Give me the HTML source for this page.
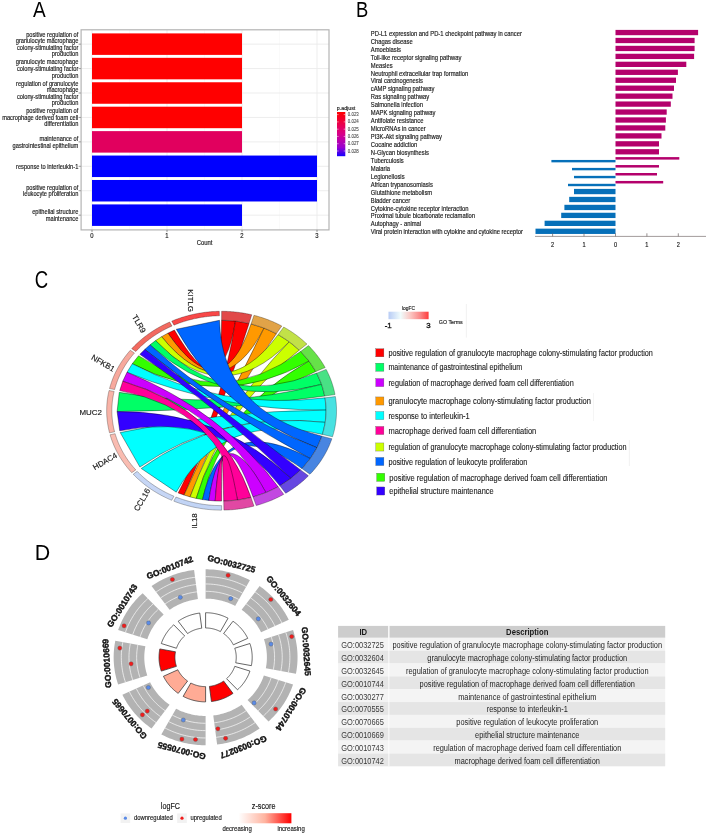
<!DOCTYPE html>
<html><head><meta charset="utf-8"><title>Enrichment figure</title>
<style>
html,body{margin:0;padding:0;background:#fff;}
svg{display:block;}
text{font-family:"Liberation Sans", Arial, sans-serif;}
.sm{fill:#1A1A1A;stroke:#1A1A1A;stroke-width:0.16px;}
.lg{fill:#1E1E1E;stroke:#1E1E1E;stroke-width:0.12px;}
.t2{fill:#222;}
.t3{fill:#333;}
.t4{fill:#444;stroke:#444;stroke-width:0.08px;}
.tb{fill:#1A1A1A;font-weight:bold;}
.tid{fill:#3A3A3A;}
.tds{fill:#1E1E1E;}
.md{fill:#1A1A1A;stroke:#1A1A1A;stroke-width:0.35px;}
</style></head><body>
<svg width="708" height="834" viewBox="0 0 708 834">
<rect width="708" height="834" fill="#fff"/>
<text x="0" y="0" font-size="21.4" fill="#000" transform="translate(33.0 16.9) scale(0.89 1.02)">A</text>
<line x1="129.5" y1="29.8" x2="129.5" y2="229.9" stroke="#F4F4F4" stroke-width="0.5"/>
<line x1="204.5" y1="29.8" x2="204.5" y2="229.9" stroke="#F4F4F4" stroke-width="0.5"/>
<line x1="279.5" y1="29.8" x2="279.5" y2="229.9" stroke="#F4F4F4" stroke-width="0.5"/>
<line x1="92" y1="29.8" x2="92" y2="229.9" stroke="#EBEBEB" stroke-width="0.9"/>
<line x1="167" y1="29.8" x2="167" y2="229.9" stroke="#EBEBEB" stroke-width="0.9"/>
<line x1="242" y1="29.8" x2="242" y2="229.9" stroke="#EBEBEB" stroke-width="0.9"/>
<line x1="317" y1="29.8" x2="317" y2="229.9" stroke="#EBEBEB" stroke-width="0.9"/>
<line x1="81.1" y1="44.15" x2="329.0" y2="44.15" stroke="#EBEBEB" stroke-width="0.9"/>
<line x1="81.1" y1="68.58" x2="329.0" y2="68.58" stroke="#EBEBEB" stroke-width="0.9"/>
<line x1="81.1" y1="93.01" x2="329.0" y2="93.01" stroke="#EBEBEB" stroke-width="0.9"/>
<line x1="81.1" y1="117.44" x2="329.0" y2="117.44" stroke="#EBEBEB" stroke-width="0.9"/>
<line x1="81.1" y1="141.87" x2="329.0" y2="141.87" stroke="#EBEBEB" stroke-width="0.9"/>
<line x1="81.1" y1="166.3" x2="329.0" y2="166.3" stroke="#EBEBEB" stroke-width="0.9"/>
<line x1="81.1" y1="190.73" x2="329.0" y2="190.73" stroke="#EBEBEB" stroke-width="0.9"/>
<line x1="81.1" y1="215.16" x2="329.0" y2="215.16" stroke="#EBEBEB" stroke-width="0.9"/>
<rect x="92" y="33.4" width="150" height="21.5" fill="#FF0000"/>
<rect x="92" y="57.83" width="150" height="21.5" fill="#FF0000"/>
<rect x="92" y="82.26" width="150" height="21.5" fill="#FF0000"/>
<rect x="92" y="106.69" width="150" height="21.5" fill="#FF0000"/>
<rect x="92" y="131.12" width="150" height="21.5" fill="#E1005E"/>
<rect x="92" y="155.55" width="225" height="21.5" fill="#0000FF"/>
<rect x="92" y="179.98" width="225" height="21.5" fill="#0000FF"/>
<rect x="92" y="204.41" width="150" height="21.5" fill="#0000FF"/>
<rect x="81.1" y="29.8" width="247.9" height="200.1" fill="none" stroke="#B4B4B4" stroke-width="1.2"/>
<text transform="translate(78.3 36.65) scale(0.8696 1)" font-size="6.55" text-anchor="end" class="sm">positive regulation of</text>
<text transform="translate(78.3 43.25) scale(0.8696 1)" font-size="6.55" text-anchor="end" class="sm">granulocyte macrophage</text>
<text transform="translate(78.3 49.85) scale(0.8696 1)" font-size="6.55" text-anchor="end" class="sm">colony-stimulating factor</text>
<text transform="translate(78.3 56.45) scale(0.8696 1)" font-size="6.55" text-anchor="end" class="sm">production</text>
<line x1="78.6" y1="44.15" x2="80.8" y2="44.15" stroke="#555" stroke-width="0.6"/>
<text transform="translate(78.3 64.38) scale(0.8696 1)" font-size="6.55" text-anchor="end" class="sm">granulocyte macrophage</text>
<text transform="translate(78.3 70.98) scale(0.8696 1)" font-size="6.55" text-anchor="end" class="sm">colony-stimulating factor</text>
<text transform="translate(78.3 77.58) scale(0.8696 1)" font-size="6.55" text-anchor="end" class="sm">production</text>
<line x1="78.6" y1="68.58" x2="80.8" y2="68.58" stroke="#555" stroke-width="0.6"/>
<text transform="translate(78.3 85.51) scale(0.8696 1)" font-size="6.55" text-anchor="end" class="sm">regulation of granulocyte</text>
<text transform="translate(78.3 92.11) scale(0.8696 1)" font-size="6.55" text-anchor="end" class="sm">macrophage</text>
<text transform="translate(78.3 98.71) scale(0.8696 1)" font-size="6.55" text-anchor="end" class="sm">colony-stimulating factor</text>
<text transform="translate(78.3 105.31) scale(0.8696 1)" font-size="6.55" text-anchor="end" class="sm">production</text>
<line x1="78.6" y1="93.01" x2="80.8" y2="93.01" stroke="#555" stroke-width="0.6"/>
<text transform="translate(78.3 113.24) scale(0.8696 1)" font-size="6.55" text-anchor="end" class="sm">positive regulation of</text>
<text transform="translate(78.3 119.84) scale(0.8696 1)" font-size="6.55" text-anchor="end" class="sm">macrophage derived foam cell</text>
<text transform="translate(78.3 126.44) scale(0.8696 1)" font-size="6.55" text-anchor="end" class="sm">differentiation</text>
<line x1="78.6" y1="117.44" x2="80.8" y2="117.44" stroke="#555" stroke-width="0.6"/>
<text transform="translate(78.3 140.97) scale(0.8696 1)" font-size="6.55" text-anchor="end" class="sm">maintenance of</text>
<text transform="translate(78.3 147.57) scale(0.8696 1)" font-size="6.55" text-anchor="end" class="sm">gastrointestinal epithelium</text>
<line x1="78.6" y1="141.87" x2="80.8" y2="141.87" stroke="#555" stroke-width="0.6"/>
<text transform="translate(78.3 168.7) scale(0.8696 1)" font-size="6.55" text-anchor="end" class="sm">response to interleukin-1</text>
<line x1="78.6" y1="166.3" x2="80.8" y2="166.3" stroke="#555" stroke-width="0.6"/>
<text transform="translate(78.3 189.83) scale(0.8696 1)" font-size="6.55" text-anchor="end" class="sm">positive regulation of</text>
<text transform="translate(78.3 196.43) scale(0.8696 1)" font-size="6.55" text-anchor="end" class="sm">leukocyte proliferation</text>
<line x1="78.6" y1="190.73" x2="80.8" y2="190.73" stroke="#555" stroke-width="0.6"/>
<text transform="translate(78.3 214.26) scale(0.8696 1)" font-size="6.55" text-anchor="end" class="sm">epithelial structure</text>
<text transform="translate(78.3 220.86) scale(0.8696 1)" font-size="6.55" text-anchor="end" class="sm">maintenance</text>
<line x1="78.6" y1="215.16" x2="80.8" y2="215.16" stroke="#555" stroke-width="0.6"/>
<line x1="92" y1="229.9" x2="92" y2="232.1" stroke="#555" stroke-width="0.6"/>
<text transform="translate(92 237.6) scale(0.8696 1)" font-size="6.79" text-anchor="middle" class="sm">0</text>
<line x1="167" y1="229.9" x2="167" y2="232.1" stroke="#555" stroke-width="0.6"/>
<text transform="translate(167 237.6) scale(0.8696 1)" font-size="6.79" text-anchor="middle" class="sm">1</text>
<line x1="242" y1="229.9" x2="242" y2="232.1" stroke="#555" stroke-width="0.6"/>
<text transform="translate(242 237.6) scale(0.8696 1)" font-size="6.79" text-anchor="middle" class="sm">2</text>
<line x1="317" y1="229.9" x2="317" y2="232.1" stroke="#555" stroke-width="0.6"/>
<text transform="translate(317 237.6) scale(0.8696 1)" font-size="6.79" text-anchor="middle" class="sm">3</text>
<text transform="translate(204.6 245.1) scale(0.8696 1)" font-size="6.79" text-anchor="middle" class="sm">Count</text>
<text transform="translate(336.8 109.6) scale(0.8696 1)" font-size="6.09" text-anchor="start" class="sm">p.adjust</text>
<defs><linearGradient id="padj" x1="0" y1="0" x2="0" y2="1"><stop offset="0" stop-color="#FF0000"/><stop offset="0.5" stop-color="#D8008A"/><stop offset="0.8" stop-color="#9A00CF"/><stop offset="1" stop-color="#1400FF"/></linearGradient></defs>
<rect x="337" y="112" width="8.3" height="44.2" fill="url(#padj)"/>
<line x1="337" y1="114.6" x2="338.6" y2="114.6" stroke="#fff" stroke-width="0.5"/>
<line x1="343.7" y1="114.6" x2="345.3" y2="114.6" stroke="#fff" stroke-width="0.5"/>
<text transform="translate(347.8 116.2) scale(0.8696 1)" font-size="5.06" text-anchor="start" class="t4">0.023</text>
<line x1="337" y1="121.88" x2="338.6" y2="121.88" stroke="#fff" stroke-width="0.5"/>
<line x1="343.7" y1="121.88" x2="345.3" y2="121.88" stroke="#fff" stroke-width="0.5"/>
<text transform="translate(347.8 123.48) scale(0.8696 1)" font-size="5.06" text-anchor="start" class="t4">0.024</text>
<line x1="337" y1="129.16" x2="338.6" y2="129.16" stroke="#fff" stroke-width="0.5"/>
<line x1="343.7" y1="129.16" x2="345.3" y2="129.16" stroke="#fff" stroke-width="0.5"/>
<text transform="translate(347.8 130.76) scale(0.8696 1)" font-size="5.06" text-anchor="start" class="t4">0.025</text>
<line x1="337" y1="136.44" x2="338.6" y2="136.44" stroke="#fff" stroke-width="0.5"/>
<line x1="343.7" y1="136.44" x2="345.3" y2="136.44" stroke="#fff" stroke-width="0.5"/>
<text transform="translate(347.8 138.04) scale(0.8696 1)" font-size="5.06" text-anchor="start" class="t4">0.026</text>
<line x1="337" y1="143.72" x2="338.6" y2="143.72" stroke="#fff" stroke-width="0.5"/>
<line x1="343.7" y1="143.72" x2="345.3" y2="143.72" stroke="#fff" stroke-width="0.5"/>
<text transform="translate(347.8 145.32) scale(0.8696 1)" font-size="5.06" text-anchor="start" class="t4">0.027</text>
<line x1="337" y1="151" x2="338.6" y2="151" stroke="#fff" stroke-width="0.5"/>
<line x1="343.7" y1="151" x2="345.3" y2="151" stroke="#fff" stroke-width="0.5"/>
<text transform="translate(347.8 152.6) scale(0.8696 1)" font-size="5.06" text-anchor="start" class="t4">0.028</text>
<text x="0" y="0" font-size="21.4" fill="#000" transform="translate(356.0 16.9) scale(0.86 1.0)">B</text>
<text transform="translate(370.8 35.85) scale(0.8696 1)" font-size="6.73" text-anchor="start" class="sm">PD-L1 expression and PD-1 checkpoint pathway in cancer</text>
<text transform="translate(370.8 43.79) scale(0.8696 1)" font-size="6.73" text-anchor="start" class="sm">Chagas disease</text>
<text transform="translate(370.8 51.73) scale(0.8696 1)" font-size="6.73" text-anchor="start" class="sm">Amoebiasis</text>
<text transform="translate(370.8 59.67) scale(0.8696 1)" font-size="6.73" text-anchor="start" class="sm">Toll-like receptor signaling pathway</text>
<text transform="translate(370.8 67.61) scale(0.8696 1)" font-size="6.73" text-anchor="start" class="sm">Measles</text>
<text transform="translate(370.8 75.55) scale(0.8696 1)" font-size="6.73" text-anchor="start" class="sm">Neutrophil extracellular trap formation</text>
<text transform="translate(370.8 83.49) scale(0.8696 1)" font-size="6.73" text-anchor="start" class="sm">Viral carcinogenesis</text>
<text transform="translate(370.8 91.43) scale(0.8696 1)" font-size="6.73" text-anchor="start" class="sm">cAMP signaling pathway</text>
<text transform="translate(370.8 99.37) scale(0.8696 1)" font-size="6.73" text-anchor="start" class="sm">Ras signaling pathway</text>
<text transform="translate(370.8 107.31) scale(0.8696 1)" font-size="6.73" text-anchor="start" class="sm">Salmonella infection</text>
<text transform="translate(370.8 115.25) scale(0.8696 1)" font-size="6.73" text-anchor="start" class="sm">MAPK signaling pathway</text>
<text transform="translate(370.8 123.19) scale(0.8696 1)" font-size="6.73" text-anchor="start" class="sm">Antifolate resistance</text>
<text transform="translate(370.8 131.13) scale(0.8696 1)" font-size="6.73" text-anchor="start" class="sm">MicroRNAs in cancer</text>
<text transform="translate(370.8 139.07) scale(0.8696 1)" font-size="6.73" text-anchor="start" class="sm">PI3K-Akt signaling pathway</text>
<text transform="translate(370.8 147.01) scale(0.8696 1)" font-size="6.73" text-anchor="start" class="sm">Cocaine addiction</text>
<text transform="translate(370.8 154.95) scale(0.8696 1)" font-size="6.73" text-anchor="start" class="sm">N-Glycan biosynthesis</text>
<text transform="translate(370.8 162.89) scale(0.8696 1)" font-size="6.73" text-anchor="start" class="sm">Tuberculosis</text>
<text transform="translate(370.8 170.83) scale(0.8696 1)" font-size="6.73" text-anchor="start" class="sm">Malaria</text>
<text transform="translate(370.8 178.77) scale(0.8696 1)" font-size="6.73" text-anchor="start" class="sm">Legionellosis</text>
<text transform="translate(370.8 186.71) scale(0.8696 1)" font-size="6.73" text-anchor="start" class="sm">African trypanosomiasis</text>
<text transform="translate(370.8 194.65) scale(0.8696 1)" font-size="6.73" text-anchor="start" class="sm">Glutathione metabolism</text>
<text transform="translate(370.8 202.59) scale(0.8696 1)" font-size="6.73" text-anchor="start" class="sm">Bladder cancer</text>
<text transform="translate(370.8 210.53) scale(0.8696 1)" font-size="6.73" text-anchor="start" class="sm">Cytokine-cytokine receptor interaction</text>
<text transform="translate(370.8 218.47) scale(0.8696 1)" font-size="6.73" text-anchor="start" class="sm">Proximal tubule bicarbonate reclamation</text>
<text transform="translate(370.8 226.41) scale(0.8696 1)" font-size="6.73" text-anchor="start" class="sm">Autophagy - animal</text>
<text transform="translate(370.8 234.35) scale(0.8696 1)" font-size="6.73" text-anchor="start" class="sm">Viral protein interaction with cytokine and cytokine receptor</text>
<rect x="615.5" y="29.9" width="82.6" height="5.3" fill="#B4006C"/>
<rect x="615.5" y="37.85" width="79.1" height="5.3" fill="#B4006C"/>
<rect x="615.5" y="45.8" width="79.1" height="5.3" fill="#B4006C"/>
<rect x="615.5" y="53.75" width="78.6" height="5.3" fill="#B4006C"/>
<rect x="615.5" y="61.7" width="70.8" height="5.3" fill="#B4006C"/>
<rect x="615.5" y="69.65" width="62.4" height="5.3" fill="#B4006C"/>
<rect x="615.5" y="77.6" width="60.5" height="5.3" fill="#B4006C"/>
<rect x="615.5" y="85.55" width="58.5" height="5.3" fill="#B4006C"/>
<rect x="615.5" y="93.5" width="57" height="5.3" fill="#B4006C"/>
<rect x="615.5" y="101.45" width="55.3" height="5.3" fill="#B4006C"/>
<rect x="615.5" y="109.4" width="51.2" height="5.3" fill="#B4006C"/>
<rect x="615.5" y="117.35" width="50.4" height="5.3" fill="#B4006C"/>
<rect x="615.5" y="125.3" width="49.8" height="5.3" fill="#B4006C"/>
<rect x="615.5" y="133.25" width="46" height="5.3" fill="#B4006C"/>
<rect x="615.5" y="141.2" width="43.5" height="5.3" fill="#B4006C"/>
<rect x="615.5" y="149.15" width="43.5" height="5.3" fill="#B4006C"/>
<rect x="615.5" y="157.1" width="63.8" height="2.5" fill="#B4006C"/>
<rect x="551.4" y="159.95" width="64.1" height="2.4" fill="#0670B9"/>
<rect x="615.5" y="165.05" width="43.5" height="2.5" fill="#B4006C"/>
<rect x="572" y="167.9" width="43.5" height="2.4" fill="#0670B9"/>
<rect x="615.5" y="173" width="41.5" height="2.5" fill="#B4006C"/>
<rect x="574" y="175.85" width="41.5" height="2.4" fill="#0670B9"/>
<rect x="615.5" y="180.95" width="47.7" height="2.5" fill="#B4006C"/>
<rect x="568" y="183.8" width="47.5" height="2.4" fill="#0670B9"/>
<rect x="574" y="188.9" width="41.5" height="5.3" fill="#0670B9"/>
<rect x="569.2" y="196.85" width="46.3" height="5.3" fill="#0670B9"/>
<rect x="564.4" y="204.8" width="51.1" height="5.3" fill="#0670B9"/>
<rect x="561.2" y="212.75" width="54.3" height="5.3" fill="#0670B9"/>
<rect x="544.6" y="220.7" width="70.9" height="5.3" fill="#0670B9"/>
<rect x="535.5" y="228.65" width="80" height="5.3" fill="#0670B9"/>
<line x1="535" y1="236.4" x2="706" y2="236.4" stroke="#8A8282" stroke-width="0.8"/>
<line x1="552.6" y1="233.3" x2="552.6" y2="236.4" stroke="#6A6262" stroke-width="0.7"/>
<text transform="translate(552.6 247.2) scale(0.8696 1)" font-size="6.44" text-anchor="middle" class="sm">2</text>
<line x1="584.0" y1="233.3" x2="584.0" y2="236.4" stroke="#6A6262" stroke-width="0.7"/>
<text transform="translate(584 247.2) scale(0.8696 1)" font-size="6.44" text-anchor="middle" class="sm">1</text>
<line x1="615.5" y1="233.3" x2="615.5" y2="236.4" stroke="#6A6262" stroke-width="0.7"/>
<text transform="translate(615.5 247.2) scale(0.8696 1)" font-size="6.44" text-anchor="middle" class="sm">0</text>
<line x1="646.9" y1="233.3" x2="646.9" y2="236.4" stroke="#6A6262" stroke-width="0.7"/>
<text transform="translate(646.9 247.2) scale(0.8696 1)" font-size="6.44" text-anchor="middle" class="sm">1</text>
<line x1="678.3" y1="233.3" x2="678.3" y2="236.4" stroke="#6A6262" stroke-width="0.7"/>
<text transform="translate(678.3 247.2) scale(0.8696 1)" font-size="6.44" text-anchor="middle" class="sm">2</text>
<text x="0" y="0" font-size="22.6" fill="#000" transform="translate(34.8 288.4) scale(0.82 1.08)">C</text>
<g stroke="#000" stroke-width="0.45" stroke-opacity="0.85"><path d="M221.6,320.3 Q221.6,410.7 174.39,330.05 L167.85,333.18 Q221.6,410.7 235.44,321.1 Z" fill="#FF0000"/><path d="M235.44,321.1 Q221.6,410.7 178.15,492.92 L184.05,495.06 Q221.6,410.7 249.03,323.47 Z" fill="#FF0000"/><path d="M251.04,323.96 Q221.6,410.7 167.85,333.18 L161.59,336.69 Q221.6,410.7 264.06,328.1 Z" fill="#FF9900"/><path d="M264.06,328.1 Q221.6,410.7 184.05,495.06 L190.09,496.89 Q221.6,410.7 276.33,333.69 Z" fill="#FF9900"/><path d="M278.1,334.65 Q221.6,410.7 161.59,336.69 L155.63,340.59 Q221.6,410.7 289.24,341.79 Z" fill="#CCFF00"/><path d="M289.24,341.79 Q221.6,410.7 190.09,496.89 L196.25,498.4 Q221.6,410.7 299.19,350.15 Z" fill="#CCFF00"/><path d="M300.58,351.5 Q221.6,410.7 138.61,355.76 L132.29,363.76 Q221.6,410.7 308.94,361.07 Z" fill="#33FF00"/><path d="M308.94,361.07 Q221.6,410.7 196.25,498.4 L202.5,499.58 Q221.6,410.7 315.77,371.51 Z" fill="#33FF00"/><path d="M316.66,373.15 Q221.6,410.7 155.63,340.59 L150.01,344.84 Q221.6,410.7 321.57,384.37 Z" fill="#00FF66"/><path d="M321.57,384.37 Q221.6,410.7 119.28,392.35 L117.11,411.6 Q221.6,410.7 324.72,396.05 Z" fill="#00FF66"/><path d="M325.04,397.83 Q221.6,410.7 132.29,363.76 L127,372.29 Q221.6,410.7 326.1,410.1 Z" fill="#00FFFF"/><path d="M326.1,410.1 Q221.6,410.7 120.21,432.57 L139.9,467.06 Q221.6,410.7 325.23,422.37 Z" fill="#00FFFF"/><path d="M325.23,422.37 Q221.6,410.7 141.22,468.47 L176.26,492.15 Q221.6,410.7 322.44,434.43 Z" fill="#00FFFF"/><path d="M321.87,436.17 Q221.6,410.7 219.51,320.32 L176.26,329.25 Q221.6,410.7 316.94,447.7 Z" fill="#0066FF"/><path d="M316.94,447.7 Q221.6,410.7 150.01,344.84 L144.76,349.43 Q221.6,410.7 310.26,458.56 Z" fill="#0066FF"/><path d="M310.26,458.56 Q221.6,410.7 202.5,499.58 L208.83,500.42 Q221.6,410.7 301.93,468.52 Z" fill="#0066FF"/><path d="M300.58,469.9 Q221.6,410.7 144.76,349.43 L139.9,354.34 Q221.6,410.7 290.82,478.42 Z" fill="#3300FF"/><path d="M290.82,478.42 Q221.6,410.7 117.11,411.6 L119.72,430.82 Q221.6,410.7 279.84,485.76 Z" fill="#3300FF"/><path d="M278.1,486.75 Q221.6,410.7 127,372.29 L122.79,381.27 Q221.6,410.7 265.96,492.55 Z" fill="#CC00FF"/><path d="M265.96,492.55 Q221.6,410.7 208.83,500.42 L215.2,500.93 Q221.6,410.7 253.04,496.91 Z" fill="#CC00FF"/><path d="M251.04,497.44 Q221.6,410.7 122.79,381.27 L119.72,390.58 Q221.6,410.7 237.51,500.05 Z" fill="#FF0099"/><path d="M237.51,500.05 Q221.6,410.7 215.2,500.93 L221.6,501.1 Q221.6,410.7 223.69,501.08 Z" fill="#FF0099"/></g>
<path d="M221.6,320.3 L222.29,320.3 L222.99,320.31 L223.68,320.32 L224.38,320.33 L225.07,320.35 L225.76,320.37 L226.46,320.4 L227.15,320.43 L227.84,320.46 L228.53,320.5 L229.23,320.54 L229.92,320.59 L230.61,320.64 L231.3,320.69 L231.99,320.75 L232.68,320.81 L233.37,320.88 L234.06,320.94 L234.75,321.02 L235.44,321.1 L236.12,321.18 L236.81,321.26 L237.5,321.35 L238.18,321.45 L238.87,321.54 L239.55,321.64 L240.23,321.75 L240.92,321.86 L241.6,321.97 L242.28,322.09 L242.96,322.21 L243.64,322.33 L244.32,322.46 L244.99,322.59 L245.67,322.73 L246.34,322.87 L247.02,323.01 L247.69,323.16 L248.36,323.31 L249.03,323.47 L251.77,314.75 L251.04,314.58 L250.3,314.41 L249.56,314.25 L248.82,314.09 L248.07,313.93 L247.33,313.78 L246.59,313.64 L245.84,313.5 L245.09,313.36 L244.35,313.23 L243.6,313.1 L242.85,312.97 L242.1,312.85 L241.35,312.74 L240.59,312.63 L239.84,312.52 L239.09,312.42 L238.33,312.32 L237.58,312.23 L236.82,312.14 L236.06,312.05 L235.31,311.97 L234.55,311.89 L233.79,311.82 L233.03,311.75 L232.27,311.69 L231.51,311.63 L230.75,311.58 L229.99,311.53 L229.23,311.48 L228.47,311.44 L227.7,311.4 L226.94,311.37 L226.18,311.34 L225.42,311.31 L224.65,311.3 L223.89,311.28 L223.13,311.27 L222.36,311.26 L221.6,311.26 Z" fill="#E14848" stroke="#000" stroke-opacity="0.7" stroke-width="0.4"/>
<path d="M251.04,323.96 L251.71,324.13 L252.37,324.31 L253.03,324.49 L253.69,324.67 L254.35,324.86 L255.01,325.05 L255.67,325.24 L256.32,325.44 L256.98,325.64 L257.63,325.84 L258.28,326.05 L258.93,326.26 L259.58,326.48 L260.22,326.7 L260.87,326.92 L261.51,327.15 L262.15,327.38 L262.79,327.62 L263.42,327.86 L264.06,328.1 L264.69,328.34 L265.32,328.59 L265.95,328.85 L266.58,329.1 L267.2,329.36 L267.83,329.63 L268.45,329.89 L269.07,330.16 L269.69,330.44 L270.3,330.72 L270.91,331 L271.52,331.28 L272.13,331.57 L272.74,331.86 L273.34,332.16 L273.94,332.46 L274.54,332.76 L275.14,333.07 L275.74,333.38 L276.33,333.69 L281.8,325.99 L281.15,325.64 L280.49,325.3 L279.84,324.97 L279.18,324.63 L278.52,324.31 L277.85,323.98 L277.19,323.66 L276.52,323.34 L275.84,323.03 L275.17,322.72 L274.49,322.41 L273.81,322.11 L273.13,321.81 L272.45,321.52 L271.76,321.23 L271.08,320.94 L270.39,320.66 L269.69,320.38 L269,320.11 L268.3,319.84 L267.61,319.57 L266.91,319.31 L266.2,319.05 L265.5,318.8 L264.79,318.55 L264.08,318.3 L263.37,318.06 L262.66,317.82 L261.95,317.59 L261.23,317.36 L260.51,317.13 L259.8,316.91 L259.07,316.69 L258.35,316.48 L257.63,316.27 L256.9,316.07 L256.18,315.86 L255.45,315.67 L254.72,315.48 L253.99,315.29 Z" fill="#E1A348" stroke="#000" stroke-opacity="0.7" stroke-width="0.4"/>
<path d="M278.1,334.65 L278.68,334.98 L279.26,335.31 L279.84,335.64 L280.41,335.98 L280.98,336.31 L281.55,336.66 L282.12,337 L282.68,337.35 L283.25,337.71 L283.81,338.06 L284.36,338.42 L284.92,338.78 L285.47,339.15 L286.01,339.52 L286.56,339.89 L287.1,340.26 L287.64,340.64 L288.18,341.02 L288.71,341.4 L289.24,341.79 L289.77,342.18 L290.29,342.57 L290.81,342.97 L291.33,343.37 L291.85,343.77 L292.36,344.18 L292.87,344.58 L293.37,345 L293.88,345.41 L294.38,345.83 L294.87,346.25 L295.37,346.67 L295.86,347.09 L296.34,347.52 L296.83,347.95 L297.31,348.38 L297.78,348.82 L298.26,349.26 L298.72,349.7 L299.19,350.15 L306.95,344.09 L306.44,343.6 L305.92,343.12 L305.4,342.63 L304.88,342.15 L304.35,341.68 L303.82,341.2 L303.28,340.73 L302.74,340.26 L302.2,339.8 L301.65,339.34 L301.1,338.88 L300.55,338.43 L299.99,337.97 L299.43,337.52 L298.87,337.08 L298.3,336.64 L297.73,336.2 L297.16,335.76 L296.58,335.33 L296,334.9 L295.42,334.48 L294.83,334.05 L294.24,333.63 L293.65,333.22 L293.05,332.81 L292.45,332.4 L291.85,331.99 L291.25,331.59 L290.64,331.19 L290.03,330.8 L289.41,330.41 L288.79,330.02 L288.17,329.63 L287.55,329.25 L286.92,328.88 L286.29,328.5 L285.66,328.13 L285.03,327.77 L284.39,327.4 L283.75,327.05 Z" fill="#C2E148" stroke="#000" stroke-opacity="0.7" stroke-width="0.4"/>
<path d="M300.58,351.5 L301.03,351.96 L301.48,352.41 L301.92,352.87 L302.37,353.34 L302.8,353.8 L303.24,354.27 L303.67,354.74 L304.1,355.21 L304.52,355.69 L304.94,356.16 L305.36,356.64 L305.77,357.13 L306.18,357.61 L306.59,358.1 L306.99,358.59 L307.39,359.08 L307.78,359.57 L308.17,360.07 L308.56,360.57 L308.94,361.07 L309.32,361.57 L309.7,362.08 L310.07,362.58 L310.43,363.09 L310.8,363.6 L311.16,364.12 L311.51,364.63 L311.86,365.15 L312.21,365.67 L312.56,366.19 L312.9,366.71 L313.23,367.24 L313.56,367.77 L313.89,368.3 L314.21,368.83 L314.53,369.36 L314.85,369.89 L315.16,370.43 L315.47,370.97 L315.77,371.51 L325.19,367.59 L324.85,367 L324.52,366.4 L324.17,365.81 L323.83,365.23 L323.48,364.64 L323.12,364.06 L322.76,363.47 L322.39,362.89 L322.03,362.32 L321.65,361.74 L321.27,361.17 L320.89,360.59 L320.5,360.03 L320.11,359.46 L319.72,358.89 L319.32,358.33 L318.91,357.77 L318.51,357.21 L318.09,356.66 L317.68,356.1 L317.25,355.55 L316.83,355.01 L316.4,354.46 L315.97,353.92 L315.53,353.38 L315.09,352.84 L314.64,352.3 L314.19,351.77 L313.74,351.24 L313.28,350.71 L312.81,350.19 L312.35,349.66 L311.88,349.14 L311.4,348.63 L310.92,348.11 L310.44,347.6 L309.96,347.09 L309.47,346.58 L308.97,346.08 L308.47,345.58 Z" fill="#66E148" stroke="#000" stroke-opacity="0.7" stroke-width="0.4"/>
<path d="M316.66,373.15 L316.94,373.69 L317.22,374.24 L317.5,374.79 L317.78,375.34 L318.05,375.9 L318.31,376.45 L318.57,377.01 L318.83,377.57 L319.08,378.12 L319.33,378.69 L319.57,379.25 L319.81,379.81 L320.05,380.38 L320.28,380.94 L320.5,381.51 L320.72,382.08 L320.94,382.65 L321.15,383.22 L321.36,383.79 L321.57,384.37 L321.77,384.94 L321.96,385.52 L322.15,386.09 L322.34,386.67 L322.52,387.25 L322.7,387.83 L322.87,388.41 L323.04,388.99 L323.21,389.58 L323.37,390.16 L323.52,390.75 L323.67,391.33 L323.82,391.92 L323.96,392.51 L324.1,393.09 L324.23,393.68 L324.36,394.27 L324.48,394.86 L324.6,395.46 L324.72,396.05 L335.03,394.58 L334.9,393.93 L334.77,393.28 L334.64,392.63 L334.5,391.98 L334.35,391.33 L334.2,390.69 L334.04,390.04 L333.88,389.4 L333.71,388.75 L333.54,388.11 L333.37,387.46 L333.19,386.82 L333,386.18 L332.81,385.54 L332.62,384.91 L332.41,384.27 L332.21,383.63 L332,383 L331.78,382.36 L331.56,381.73 L331.34,381.1 L331.11,380.47 L330.88,379.84 L330.64,379.22 L330.39,378.59 L330.14,377.97 L329.89,377.34 L329.63,376.72 L329.37,376.1 L329.1,375.48 L328.83,374.87 L328.55,374.25 L328.27,373.64 L327.98,373.03 L327.69,372.42 L327.39,371.81 L327.09,371.2 L326.79,370.6 L326.48,369.99 L326.16,369.39 Z" fill="#48E185" stroke="#000" stroke-opacity="0.7" stroke-width="0.4"/>
<path d="M325.04,397.83 L325.18,398.75 L325.32,399.66 L325.44,400.58 L325.56,401.5 L325.66,402.42 L325.75,403.34 L325.83,404.26 L325.9,405.18 L325.96,406.1 L326.01,407.02 L326.05,407.94 L326.08,408.87 L326.09,409.79 L326.1,410.71 L326.09,411.64 L326.08,412.56 L326.05,413.48 L326.01,414.4 L325.96,415.33 L325.9,416.25 L325.83,417.17 L325.75,418.09 L325.66,419.01 L325.55,419.93 L325.44,420.84 L325.31,421.76 L325.18,422.68 L325.03,423.59 L324.87,424.5 L324.71,425.41 L324.53,426.32 L324.34,427.23 L324.14,428.14 L323.93,429.04 L323.7,429.95 L323.47,430.85 L323.23,431.75 L322.97,432.64 L322.71,433.54 L322.44,434.43 L332.52,436.8 L332.82,435.82 L333.11,434.84 L333.39,433.85 L333.66,432.86 L333.91,431.87 L334.16,430.88 L334.39,429.88 L334.61,428.89 L334.82,427.89 L335.02,426.89 L335.2,425.88 L335.38,424.88 L335.54,423.87 L335.69,422.87 L335.82,421.86 L335.95,420.85 L336.06,419.84 L336.17,418.83 L336.26,417.81 L336.33,416.8 L336.4,415.79 L336.45,414.77 L336.5,413.76 L336.53,412.74 L336.54,411.73 L336.55,410.71 L336.54,409.7 L336.53,408.68 L336.5,407.67 L336.45,406.65 L336.4,405.64 L336.34,404.63 L336.26,403.61 L336.17,402.6 L336.07,401.59 L335.95,400.58 L335.83,399.57 L335.69,398.56 L335.54,397.55 L335.38,396.55 Z" fill="#48E1E1" stroke="#000" stroke-opacity="0.7" stroke-width="0.4"/>
<path d="M321.87,436.17 L321.56,437.05 L321.24,437.93 L320.92,438.81 L320.58,439.69 L320.23,440.56 L319.88,441.43 L319.51,442.3 L319.13,443.16 L318.74,444.02 L318.34,444.88 L317.94,445.73 L317.52,446.58 L317.09,447.42 L316.65,448.27 L316.2,449.1 L315.74,449.94 L315.28,450.77 L314.8,451.59 L314.31,452.41 L313.81,453.23 L313.31,454.04 L312.79,454.85 L312.26,455.65 L311.73,456.45 L311.18,457.24 L310.63,458.03 L310.07,458.82 L309.5,459.6 L308.91,460.37 L308.32,461.14 L307.72,461.9 L307.11,462.66 L306.5,463.41 L305.87,464.16 L305.23,464.9 L304.59,465.64 L303.94,466.37 L303.28,467.09 L302.61,467.81 L301.93,468.52 L309.96,474.3 L310.71,473.52 L311.44,472.73 L312.17,471.93 L312.89,471.13 L313.6,470.32 L314.3,469.5 L314.99,468.68 L315.67,467.85 L316.34,467.02 L317,466.18 L317.64,465.34 L318.28,464.48 L318.91,463.63 L319.53,462.77 L320.14,461.9 L320.74,461.03 L321.33,460.15 L321.91,459.26 L322.48,458.37 L323.04,457.48 L323.58,456.58 L324.12,455.68 L324.64,454.77 L325.16,453.86 L325.66,452.94 L326.16,452.02 L326.64,451.1 L327.11,450.17 L327.57,449.23 L328.02,448.29 L328.46,447.35 L328.88,446.41 L329.3,445.46 L329.7,444.5 L330.1,443.55 L330.48,442.59 L330.85,441.62 L331.21,440.66 L331.56,439.69 L331.89,438.72 Z" fill="#4885E1" stroke="#000" stroke-opacity="0.7" stroke-width="0.4"/>
<path d="M300.58,469.9 L300.12,470.35 L299.66,470.8 L299.2,471.25 L298.73,471.69 L298.26,472.13 L297.79,472.57 L297.31,473.01 L296.83,473.44 L296.35,473.87 L295.86,474.3 L295.37,474.73 L294.88,475.15 L294.38,475.57 L293.88,475.99 L293.38,476.4 L292.87,476.81 L292.36,477.22 L291.85,477.62 L291.34,478.03 L290.82,478.42 L290.3,478.82 L289.77,479.21 L289.25,479.6 L288.72,479.99 L288.18,480.37 L287.65,480.76 L287.11,481.13 L286.56,481.51 L286.02,481.88 L285.47,482.25 L284.92,482.61 L284.37,482.98 L283.81,483.33 L283.25,483.69 L282.69,484.04 L282.13,484.39 L281.56,484.74 L280.99,485.08 L280.42,485.42 L279.84,485.76 L285.67,493.26 L286.3,492.89 L286.93,492.52 L287.56,492.14 L288.18,491.76 L288.8,491.38 L289.42,490.99 L290.03,490.6 L290.65,490.2 L291.25,489.8 L291.86,489.4 L292.46,489 L293.06,488.59 L293.66,488.18 L294.25,487.76 L294.84,487.34 L295.43,486.92 L296.01,486.49 L296.59,486.06 L297.17,485.63 L297.74,485.2 L298.31,484.76 L298.88,484.32 L299.44,483.87 L300,483.42 L300.56,482.97 L301.11,482.51 L301.66,482.06 L302.21,481.59 L302.75,481.13 L303.29,480.66 L303.82,480.19 L304.35,479.72 L304.88,479.24 L305.41,478.76 L305.93,478.28 L306.44,477.79 L306.96,477.3 L307.47,476.81 L307.97,476.32 L308.47,475.82 Z" fill="#6648E1" stroke="#000" stroke-opacity="0.7" stroke-width="0.4"/>
<path d="M278.1,486.75 L277.51,487.07 L276.92,487.39 L276.33,487.71 L275.74,488.02 L275.15,488.33 L274.55,488.64 L273.95,488.94 L273.35,489.24 L272.75,489.53 L272.14,489.82 L271.53,490.11 L270.92,490.4 L270.31,490.68 L269.69,490.96 L269.08,491.23 L268.46,491.5 L267.84,491.77 L267.21,492.03 L266.59,492.29 L265.96,492.55 L265.33,492.8 L264.7,493.05 L264.07,493.3 L263.43,493.54 L262.79,493.78 L262.16,494.01 L261.52,494.25 L260.87,494.47 L260.23,494.7 L259.58,494.92 L258.94,495.13 L258.29,495.35 L257.64,495.55 L256.98,495.76 L256.33,495.96 L255.68,496.16 L255.02,496.35 L254.36,496.54 L253.7,496.73 L253.04,496.91 L256.18,505.53 L256.91,505.33 L257.64,505.13 L258.36,504.92 L259.08,504.7 L259.8,504.49 L260.52,504.27 L261.24,504.04 L261.96,503.81 L262.67,503.58 L263.38,503.34 L264.09,503.1 L264.8,502.85 L265.51,502.6 L266.21,502.35 L266.91,502.09 L267.61,501.83 L268.31,501.56 L269.01,501.29 L269.7,501.01 L270.4,500.74 L271.09,500.45 L271.77,500.17 L272.46,499.88 L273.14,499.58 L273.82,499.29 L274.5,498.98 L275.18,498.68 L275.85,498.37 L276.52,498.05 L277.19,497.74 L277.86,497.42 L278.52,497.09 L279.19,496.76 L279.85,496.43 L280.5,496.09 L281.16,495.75 L281.81,495.41 L282.46,495.06 L283.1,494.71 L283.75,494.35 Z" fill="#C248E1" stroke="#000" stroke-opacity="0.7" stroke-width="0.4"/>
<path d="M251.04,497.44 L250.37,497.61 L249.71,497.77 L249.04,497.93 L248.37,498.08 L247.7,498.24 L247.02,498.38 L246.35,498.53 L245.68,498.67 L245,498.8 L244.32,498.94 L243.65,499.07 L242.97,499.19 L242.29,499.31 L241.61,499.43 L240.93,499.54 L240.24,499.65 L239.56,499.75 L238.88,499.86 L238.19,499.95 L237.51,500.05 L236.82,500.14 L236.13,500.22 L235.45,500.3 L234.76,500.38 L234.07,500.45 L233.38,500.52 L232.69,500.59 L232,500.65 L231.31,500.71 L230.62,500.76 L229.93,500.81 L229.23,500.86 L228.54,500.9 L227.85,500.94 L227.16,500.97 L226.46,501 L225.77,501.03 L225.08,501.05 L224.38,501.07 L223.69,501.08 L223.9,510.12 L224.66,510.1 L225.42,510.08 L226.19,510.06 L226.95,510.03 L227.71,510 L228.47,509.96 L229.24,509.92 L230,509.87 L230.76,509.82 L231.52,509.77 L232.28,509.71 L233.04,509.65 L233.8,509.58 L234.56,509.51 L235.32,509.43 L236.07,509.35 L236.83,509.26 L237.59,509.17 L238.34,509.08 L239.1,508.98 L239.85,508.88 L240.6,508.77 L241.36,508.66 L242.11,508.54 L242.86,508.42 L243.61,508.3 L244.36,508.17 L245.1,508.04 L245.85,507.9 L246.6,507.76 L247.34,507.61 L248.08,507.46 L248.83,507.31 L249.57,507.15 L250.31,506.99 L251.04,506.82 L251.78,506.65 L252.52,506.48 L253.25,506.3 L253.99,506.11 Z" fill="#E148A3" stroke="#000" stroke-opacity="0.7" stroke-width="0.4"/>
<path d="M219.41,315.8 L218.23,315.82 L217.05,315.86 L215.88,315.91 L214.71,315.97 L213.53,316.04 L212.36,316.12 L211.19,316.21 L210.02,316.31 L208.85,316.42 L207.68,316.55 L206.51,316.68 L205.35,316.83 L204.19,316.98 L203.03,317.15 L201.87,317.33 L200.71,317.52 L199.56,317.71 L198.41,317.92 L197.26,318.14 L196.12,318.38 L194.97,318.62 L193.83,318.87 L192.7,319.13 L191.56,319.41 L190.43,319.69 L189.31,319.98 L188.19,320.29 L187.07,320.6 L185.95,320.93 L184.84,321.26 L183.74,321.61 L182.63,321.97 L181.54,322.33 L180.44,322.71 L179.36,323.1 L178.27,323.49 L177.2,323.9 L176.12,324.32 L175.05,324.74 L173.99,325.18 L171.73,321.11 L172.84,320.65 L173.96,320.2 L175.08,319.77 L176.21,319.34 L177.35,318.92 L178.48,318.52 L179.63,318.13 L180.78,317.74 L181.93,317.37 L183.09,317.01 L184.26,316.65 L185.42,316.31 L186.59,315.98 L187.77,315.66 L188.95,315.36 L190.13,315.06 L191.32,314.77 L192.51,314.5 L193.7,314.23 L194.9,313.98 L196.1,313.74 L197.3,313.51 L198.51,313.29 L199.72,313.08 L200.93,312.88 L202.14,312.69 L203.36,312.52 L204.58,312.36 L205.8,312.2 L207.02,312.06 L208.24,311.93 L209.47,311.82 L210.69,311.71 L211.92,311.61 L213.15,311.53 L214.38,311.46 L215.61,311.4 L216.84,311.35 L218.07,311.31 L219.3,311.28 Z" fill="#F84848" stroke="#000" stroke-opacity="0.6" stroke-width="0.45"/>
<path d="M172.02,326.02 L170.98,326.49 L169.94,326.96 L168.9,327.44 L167.87,327.94 L166.85,328.44 L165.84,328.95 L164.83,329.47 L163.82,330.01 L162.83,330.55 L161.84,331.1 L160.85,331.65 L159.88,332.22 L158.91,332.8 L157.95,333.38 L156.99,333.98 L156.04,334.58 L155.11,335.2 L154.17,335.82 L153.25,336.45 L152.33,337.08 L151.42,337.73 L150.52,338.39 L149.63,339.05 L148.75,339.72 L147.87,340.4 L147.01,341.09 L146.15,341.78 L145.3,342.49 L144.46,343.2 L143.63,343.92 L142.8,344.64 L141.99,345.38 L141.18,346.12 L140.39,346.87 L139.6,347.63 L138.83,348.39 L138.06,349.16 L137.3,349.94 L136.55,350.73 L135.81,351.52 L131.73,348.7 L132.5,347.87 L133.29,347.05 L134.08,346.23 L134.88,345.42 L135.7,344.62 L136.52,343.83 L137.35,343.05 L138.2,342.27 L139.05,341.5 L139.91,340.74 L140.78,339.98 L141.67,339.24 L142.56,338.5 L143.45,337.77 L144.36,337.05 L145.28,336.34 L146.21,335.64 L147.14,334.94 L148.08,334.26 L149.03,333.58 L149.99,332.91 L150.96,332.25 L151.94,331.6 L152.92,330.96 L153.92,330.33 L154.91,329.7 L155.92,329.09 L156.94,328.49 L157.96,327.89 L158.99,327.3 L160.03,326.73 L161.07,326.16 L162.12,325.61 L163.18,325.06 L164.24,324.52 L165.32,324 L166.39,323.48 L167.48,322.97 L168.57,322.48 L169.66,321.99 Z" fill="#F26A60" stroke="#000" stroke-opacity="0.6" stroke-width="0.45"/>
<path d="M134.46,353.01 L133.75,353.83 L133.05,354.64 L132.36,355.47 L131.68,356.3 L131.02,357.14 L130.36,357.98 L129.71,358.83 L129.07,359.68 L128.44,360.54 L127.83,361.41 L127.22,362.28 L126.63,363.16 L126.04,364.04 L125.47,364.93 L124.91,365.83 L124.36,366.73 L123.82,367.63 L123.29,368.54 L122.78,369.45 L122.27,370.37 L121.78,371.3 L121.29,372.22 L120.82,373.16 L120.36,374.09 L119.92,375.03 L119.48,375.98 L119.05,376.93 L118.64,377.88 L118.24,378.84 L117.85,379.8 L117.48,380.76 L117.11,381.73 L116.76,382.7 L116.42,383.67 L116.09,384.65 L115.77,385.63 L115.47,386.61 L115.17,387.6 L114.89,388.59 L114.63,389.58 L109.53,388.57 L109.81,387.53 L110.11,386.5 L110.41,385.47 L110.73,384.44 L111.06,383.41 L111.41,382.39 L111.77,381.37 L112.13,380.35 L112.52,379.34 L112.91,378.33 L113.32,377.32 L113.74,376.32 L114.17,375.32 L114.62,374.33 L115.07,373.34 L115.54,372.35 L116.02,371.37 L116.52,370.39 L117.02,369.42 L117.54,368.45 L118.07,367.49 L118.61,366.53 L119.16,365.58 L119.73,364.63 L120.31,363.69 L120.89,362.75 L121.49,361.82 L122.11,360.9 L122.73,359.98 L123.36,359.06 L124.01,358.16 L124.66,357.25 L125.33,356.36 L126.01,355.47 L126.7,354.58 L127.4,353.71 L128.11,352.84 L128.84,351.97 L129.57,351.12 L130.31,350.27 Z" fill="#F7A99D" stroke="#000" stroke-opacity="0.6" stroke-width="0.45"/>
<path d="M114.16,391.43 L113.93,392.43 L113.71,393.43 L113.5,394.43 L113.3,395.44 L113.12,396.44 L112.95,397.45 L112.79,398.46 L112.65,399.47 L112.51,400.48 L112.39,401.49 L112.29,402.5 L112.19,403.52 L112.11,404.53 L112.04,405.55 L111.98,406.56 L111.93,407.58 L111.9,408.6 L111.88,409.61 L111.88,410.63 L111.88,411.65 L111.9,412.67 L111.93,413.68 L111.97,414.7 L112.03,415.72 L112.1,416.73 L112.18,417.75 L112.27,418.76 L112.38,419.78 L112.5,420.79 L112.63,421.8 L112.77,422.81 L112.93,423.82 L113.1,424.82 L113.28,425.83 L113.47,426.83 L113.68,427.84 L113.9,428.84 L114.13,429.83 L114.37,430.83 L114.63,431.82 L109.53,432.83 L109.26,431.79 L109.01,430.74 L108.77,429.7 L108.54,428.65 L108.32,427.6 L108.12,426.55 L107.93,425.5 L107.75,424.44 L107.59,423.39 L107.44,422.33 L107.3,421.27 L107.18,420.21 L107.07,419.15 L106.97,418.08 L106.88,417.02 L106.81,415.96 L106.75,414.89 L106.71,413.83 L106.67,412.76 L106.66,411.69 L106.65,410.63 L106.66,409.56 L106.68,408.5 L106.71,407.43 L106.76,406.37 L106.82,405.3 L106.89,404.24 L106.98,403.17 L107.08,402.11 L107.19,401.05 L107.32,399.99 L107.46,398.93 L107.61,397.87 L107.78,396.82 L107.95,395.76 L108.15,394.71 L108.35,393.66 L108.57,392.61 L108.8,391.56 L109.04,390.52 Z" fill="#F8B3A7" stroke="#000" stroke-opacity="0.6" stroke-width="0.45"/>
<path d="M115.14,433.67 L115.43,434.65 L115.73,435.64 L116.04,436.62 L116.37,437.6 L116.71,438.57 L117.06,439.54 L117.43,440.51 L117.8,441.47 L118.19,442.43 L118.59,443.39 L119,444.34 L119.42,445.29 L119.86,446.24 L120.3,447.18 L120.76,448.12 L121.23,449.05 L121.71,449.98 L122.2,450.9 L122.71,451.82 L123.22,452.74 L123.75,453.65 L124.29,454.55 L124.84,455.45 L125.4,456.35 L125.97,457.24 L126.55,458.12 L127.14,459 L127.75,459.87 L128.36,460.74 L128.99,461.6 L129.62,462.46 L130.27,463.31 L130.93,464.15 L131.59,464.99 L132.27,465.82 L132.96,466.65 L133.66,467.46 L134.37,468.28 L135.09,469.08 L135.81,469.88 L131.73,472.7 L130.97,471.86 L130.21,471.02 L129.47,470.17 L128.74,469.31 L128.02,468.45 L127.31,467.57 L126.61,466.7 L125.92,465.81 L125.24,464.92 L124.58,464.03 L123.92,463.12 L123.28,462.21 L122.64,461.3 L122.02,460.38 L121.41,459.45 L120.81,458.52 L120.23,457.58 L119.65,456.64 L119.09,455.69 L118.54,454.74 L118,453.78 L117.47,452.82 L116.95,451.85 L116.45,450.88 L115.96,449.9 L115.48,448.92 L115.01,447.93 L114.56,446.94 L114.11,445.95 L113.68,444.95 L113.26,443.94 L112.86,442.94 L112.47,441.93 L112.08,440.91 L111.72,439.9 L111.36,438.88 L111.02,437.85 L110.69,436.82 L110.37,435.79 L110.07,434.76 Z" fill="#F9BCB1" stroke="#000" stroke-opacity="0.6" stroke-width="0.45"/>
<path d="M137.2,471.35 L137.96,472.13 L138.72,472.91 L139.5,473.67 L140.28,474.43 L141.08,475.18 L141.88,475.92 L142.69,476.66 L143.51,477.38 L144.35,478.11 L145.19,478.82 L146.03,479.52 L146.89,480.22 L147.76,480.91 L148.63,481.59 L149.51,482.26 L150.4,482.93 L151.3,483.58 L152.21,484.23 L153.13,484.87 L154.05,485.5 L154.98,486.12 L155.92,486.74 L156.86,487.34 L157.82,487.94 L158.78,488.52 L159.75,489.1 L160.72,489.67 L161.7,490.23 L162.69,490.78 L163.69,491.32 L164.69,491.85 L165.7,492.38 L166.71,492.89 L167.74,493.4 L168.76,493.89 L169.8,494.38 L170.84,494.85 L171.88,495.32 L172.94,495.77 L173.99,496.22 L171.73,500.29 L170.62,499.82 L169.52,499.35 L168.42,498.86 L167.33,498.36 L166.25,497.85 L165.17,497.33 L164.1,496.81 L163.04,496.27 L161.98,495.72 L160.93,495.16 L159.89,494.59 L158.85,494.02 L157.82,493.43 L156.8,492.83 L155.79,492.23 L154.78,491.61 L153.78,490.99 L152.79,490.36 L151.81,489.71 L150.83,489.06 L149.87,488.4 L148.91,487.73 L147.96,487.05 L147.01,486.37 L146.08,485.67 L145.16,484.96 L144.24,484.25 L143.33,483.53 L142.44,482.8 L141.55,482.06 L140.67,481.32 L139.8,480.56 L138.94,479.8 L138.08,479.03 L137.24,478.25 L136.41,477.46 L135.59,476.67 L134.77,475.87 L133.97,475.06 L133.18,474.24 Z" fill="#C6D6F5" stroke="#000" stroke-opacity="0.6" stroke-width="0.45"/>
<path d="M175.98,497.03 L177.05,497.44 L178.13,497.85 L179.21,498.25 L180.3,498.64 L181.39,499.02 L182.49,499.38 L183.59,499.74 L184.69,500.09 L185.8,500.43 L186.92,500.75 L188.04,501.07 L189.16,501.38 L190.28,501.67 L191.41,501.96 L192.54,502.23 L193.68,502.5 L194.82,502.75 L195.96,502.99 L197.11,503.22 L198.25,503.45 L199.41,503.66 L200.56,503.86 L201.71,504.05 L202.87,504.23 L204.03,504.4 L205.19,504.55 L206.36,504.7 L207.52,504.84 L208.69,504.96 L209.86,505.08 L211.03,505.18 L212.2,505.27 L213.37,505.35 L214.55,505.42 L215.72,505.48 L216.9,505.53 L218.07,505.57 L219.25,505.6 L220.42,505.61 L221.6,505.62 L221.6,510.14 L220.37,510.13 L219.14,510.12 L217.9,510.09 L216.67,510.05 L215.44,510 L214.21,509.93 L212.98,509.86 L211.75,509.77 L210.53,509.68 L209.3,509.57 L208.08,509.45 L206.85,509.32 L205.63,509.18 L204.41,509.02 L203.2,508.86 L201.98,508.68 L200.77,508.49 L199.56,508.29 L198.35,508.08 L197.14,507.86 L195.94,507.63 L194.74,507.39 L193.54,507.13 L192.35,506.87 L191.16,506.59 L189.97,506.3 L188.79,506 L187.61,505.69 L186.44,505.37 L185.27,505.04 L184.1,504.7 L182.94,504.35 L181.78,503.98 L180.62,503.61 L179.48,503.22 L178.33,502.83 L177.19,502.42 L176.06,502 L174.93,501.58 L173.81,501.14 Z" fill="#C2D4F5" stroke="#000" stroke-opacity="0.6" stroke-width="0.45"/>
<text x="0" y="2.75" font-size="7.9" class="sm" text-anchor="middle" transform="translate(191.0 300.6) rotate(90)">KITLG</text>
<text x="0" y="2.75" font-size="7.9" class="sm" text-anchor="middle" transform="translate(139.0 323.7) rotate(60)">TLR9</text>
<text x="0" y="2.75" font-size="7.9" class="sm" text-anchor="middle" transform="translate(103.1 363.1) rotate(30)">NFKB1</text>
<text x="0" y="2.75" font-size="7.9" class="sm" text-anchor="middle" transform="translate(90.65 412.3) rotate(0)">MUC2</text>
<text x="0" y="2.75" font-size="7.9" class="sm" text-anchor="middle" transform="translate(104.9 461.3) rotate(-30)">HDAC4</text>
<text x="0" y="2.75" font-size="7.9" class="sm" text-anchor="middle" transform="translate(142.0 499.8) rotate(-60)">CCL16</text>
<text x="0" y="2.75" font-size="7.9" class="sm" text-anchor="middle" transform="translate(194.4 521.0) rotate(-90)">IL18</text>
<text transform="translate(408.5 309.6) scale(0.8696 1)" font-size="5.63" text-anchor="middle" class="sm">logFC</text>
<defs><linearGradient id="lfc" x1="0" y1="0" x2="1" y2="0"><stop offset="0" stop-color="#B8CCF5"/><stop offset="0.3" stop-color="#F0FCFC"/><stop offset="0.55" stop-color="#FBC6C2"/><stop offset="0.8" stop-color="#FA8484"/><stop offset="1" stop-color="#FF3B3B"/></linearGradient></defs>
<rect x="388.5" y="311.7" width="40.1" height="7.5" fill="url(#lfc)"/>
<text x="388.2" y="328.2" font-size="7.9" class="md" text-anchor="middle">-1</text>
<text x="428.5" y="328.2" font-size="7.9" class="md" text-anchor="middle">3</text>
<text transform="translate(438.8 324) scale(0.8696 1)" font-size="6.09" text-anchor="start" class="sm">GO Terms</text>
<line x1="466.4" y1="304" x2="466.4" y2="337.5" stroke="#EEE" stroke-width="0.8"/>
<rect x="375.8" y="348.75" width="8.1" height="8.1" fill="#FF0000" stroke="#555" stroke-width="0.3"/>
<text transform="translate(388.4 356) scale(0.8696 1)" font-size="8.45" text-anchor="start" class="lg" textLength="304.17" lengthAdjust="spacingAndGlyphs">positive regulation of granulocyte macrophage colony-stimulating factor production</text>
<rect x="375.8" y="363.15" width="8.1" height="8.1" fill="#00FF66" stroke="#555" stroke-width="0.3"/>
<text transform="translate(388.4 370.4) scale(0.8696 1)" font-size="8.45" text-anchor="start" class="lg" textLength="153.98" lengthAdjust="spacingAndGlyphs">maintenance of gastrointestinal epithelium</text>
<rect x="375.8" y="378.55" width="8.1" height="8.1" fill="#CC00FF" stroke="#555" stroke-width="0.3"/>
<text transform="translate(388.4 385.8) scale(0.8696 1)" font-size="8.45" text-anchor="start" class="lg" textLength="213.1" lengthAdjust="spacingAndGlyphs">regulation of macrophage derived foam cell differentiation</text>
<rect x="375.8" y="396.95" width="8.1" height="8.1" fill="#FF9900" stroke="#555" stroke-width="0.3"/>
<text transform="translate(388.4 404.2) scale(0.8696 1)" font-size="8.45" text-anchor="start" class="lg" textLength="232.87" lengthAdjust="spacingAndGlyphs">granulocyte macrophage colony-stimulating factor production</text>
<rect x="375.8" y="411.55" width="8.1" height="8.1" fill="#00FFFF" stroke="#555" stroke-width="0.3"/>
<text transform="translate(388.4 418.8) scale(0.8696 1)" font-size="8.45" text-anchor="start" class="lg" textLength="93.5" lengthAdjust="spacingAndGlyphs">response to interleukin-1</text>
<rect x="375.8" y="426.45" width="8.1" height="8.1" fill="#FF0099" stroke="#555" stroke-width="0.3"/>
<text transform="translate(388.4 433.7) scale(0.8696 1)" font-size="8.45" text-anchor="start" class="lg" textLength="170.08" lengthAdjust="spacingAndGlyphs">macrophage derived foam cell differentiation</text>
<rect x="375.8" y="442.95" width="8.1" height="8.1" fill="#CCFF00" stroke="#555" stroke-width="0.3"/>
<text transform="translate(388.4 450.2) scale(0.8696 1)" font-size="8.45" text-anchor="start" class="lg" textLength="273.81" lengthAdjust="spacingAndGlyphs">regulation of granulocyte macrophage colony-stimulating factor production</text>
<rect x="375.8" y="457.45" width="8.1" height="8.1" fill="#0066FF" stroke="#555" stroke-width="0.3"/>
<text transform="translate(388.4 464.7) scale(0.8696 1)" font-size="8.45" text-anchor="start" class="lg" textLength="159.85" lengthAdjust="spacingAndGlyphs">positive regulation of leukocyte proliferation</text>
<rect x="376.7" y="473.25" width="8.1" height="8.1" fill="#33FF00" stroke="#555" stroke-width="0.3"/>
<text transform="translate(389.3 480.5) scale(0.8696 1)" font-size="8.45" text-anchor="start" class="lg" textLength="250.93" lengthAdjust="spacingAndGlyphs">positive regulation of macrophage derived foam cell differentiation</text>
<rect x="376.7" y="486.95" width="8.1" height="8.1" fill="#3300FF" stroke="#555" stroke-width="0.3"/>
<text transform="translate(389.3 494.2) scale(0.8696 1)" font-size="8.45" text-anchor="start" class="lg" textLength="119.95" lengthAdjust="spacingAndGlyphs">epithelial structure maintenance</text>
<line x1="593.5" y1="393" x2="593.5" y2="421" stroke="#F2F2F2" stroke-width="0.8"/>
<line x1="629.4" y1="440" x2="629.4" y2="466" stroke="#EEE" stroke-width="0.8"/>
<text x="34.7" y="559.6" font-size="21.4" fill="#000">D</text>
<path d="M205.6,598.64 L206.88,598.65 L208.17,598.69 L209.45,598.76 L210.73,598.85 L212.01,598.96 L213.28,599.1 L214.55,599.27 L215.82,599.46 L217.09,599.68 L218.34,599.92 L219.6,600.19 L220.84,600.48 L222.08,600.8 L223.32,601.14 L224.54,601.51 L225.76,601.9 L226.97,602.32 L228.17,602.76 L229.35,603.22 L230.53,603.71 L231.7,604.22 L232.86,604.76 L234,605.32 L235.13,605.9 L249.9,580.19 L248.2,579.32 L246.48,578.49 L244.75,577.68 L243,576.92 L241.23,576.19 L239.45,575.49 L237.65,574.83 L235.84,574.2 L234.01,573.62 L232.18,573.07 L230.33,572.55 L228.47,572.07 L226.6,571.63 L224.72,571.23 L222.83,570.87 L220.93,570.54 L219.03,570.25 L217.12,570 L215.21,569.79 L213.29,569.62 L211.37,569.48 L209.45,569.39 L207.53,569.33 L205.6,569.31 Z" fill="#B3B3B3"/>
<path d="M205.6,591.31 L207.04,591.32 L208.49,591.37 L209.93,591.44 L211.37,591.54 L212.81,591.67 L214.24,591.83 L215.67,592.02 L217.1,592.23 L218.52,592.48 L219.94,592.75 L221.35,593.05 L222.75,593.38 L224.15,593.74 L225.53,594.12 L226.91,594.54 L228.28,594.98 L229.64,595.45 L230.99,595.94 L232.32,596.46 L233.65,597.01 L234.96,597.59 L236.26,598.19 L237.55,598.82 L238.82,599.47" fill="none" stroke="#FFFFFF" stroke-opacity="0.9" stroke-width="0.75"/>
<path d="M205.6,583.97 L207.2,583.99 L208.81,584.04 L210.41,584.12 L212.01,584.23 L213.61,584.38 L215.2,584.55 L216.79,584.76 L218.38,585 L219.96,585.27 L221.53,585.58 L223.1,585.91 L224.66,586.28 L226.21,586.68 L227.75,587.1 L229.28,587.56 L230.8,588.05 L232.31,588.57 L233.81,589.12 L235.29,589.7 L236.77,590.31 L238.23,590.95 L239.67,591.62 L241.1,592.32 L242.51,593.04" fill="none" stroke="#FFFFFF" stroke-opacity="0.9" stroke-width="0.75"/>
<path d="M205.6,576.64 L207.37,576.66 L209.13,576.71 L210.89,576.8 L212.65,576.93 L214.41,577.08 L216.16,577.28 L217.91,577.51 L219.66,577.77 L221.39,578.07 L223.12,578.41 L224.85,578.77 L226.56,579.18 L228.27,579.61 L229.96,580.09 L231.65,580.59 L233.32,581.13 L234.98,581.7 L236.63,582.31 L238.26,582.94 L239.88,583.62 L241.49,584.32 L243.08,585.05 L244.65,585.82 L246.21,586.62" fill="none" stroke="#FFFFFF" stroke-opacity="0.9" stroke-width="0.75"/>
<path d="M205.6,627.97 L206.24,627.98 L206.88,628 L207.52,628.03 L208.16,628.07 L208.8,628.13 L209.44,628.2 L210.08,628.28 L210.71,628.38 L211.34,628.49 L211.97,628.61 L212.6,628.74 L213.22,628.89 L213.84,629.05 L214.46,629.22 L215.07,629.41 L215.68,629.6 L216.28,629.81 L216.88,630.03 L217.48,630.26 L218.07,630.51 L218.65,630.76 L219.23,631.03 L219.8,631.31 L220.37,631.6 L228.04,618.23 L227.18,617.79 L226.31,617.37 L225.44,616.96 L224.55,616.57 L223.65,616.2 L222.75,615.85 L221.84,615.51 L220.92,615.2 L220,614.9 L219.07,614.62 L218.13,614.36 L217.19,614.12 L216.24,613.9 L215.29,613.69 L214.33,613.51 L213.37,613.34 L212.41,613.2 L211.44,613.07 L210.47,612.96 L209.5,612.87 L208.53,612.81 L207.55,612.76 L206.58,612.73 L205.6,612.72 Z" fill="#FFFFFF" stroke="#333" stroke-width="0.75"/>
<text x="0" y="2.9" font-size="8.5" font-weight="bold" fill="#111" stroke="#111" stroke-width="0.4" text-anchor="middle" transform="translate(231.44 563.83) rotate(14.4)">GO:0032725</text>
<path d="M241.63,609.84 L242.66,610.58 L243.68,611.33 L244.67,612.1 L245.65,612.89 L246.62,613.71 L247.56,614.54 L248.49,615.39 L249.4,616.26 L250.29,617.14 L251.15,618.05 L252,618.97 L252.83,619.91 L253.64,620.86 L254.43,621.83 L255.19,622.82 L255.94,623.82 L256.66,624.84 L257.36,625.87 L258.03,626.91 L258.69,627.97 L259.32,629.04 L259.92,630.12 L260.51,631.22 L261.07,632.32 L288.8,619.84 L287.96,618.18 L287.09,616.53 L286.18,614.91 L285.23,613.3 L284.25,611.72 L283.24,610.15 L282.19,608.61 L281.1,607.08 L279.99,605.58 L278.84,604.1 L277.66,602.65 L276.45,601.21 L275.21,599.81 L273.93,598.42 L272.63,597.07 L271.3,595.74 L269.93,594.43 L268.54,593.16 L267.13,591.91 L265.68,590.69 L264.21,589.5 L262.71,588.34 L261.19,587.21 L259.65,586.11 Z" fill="#B3B3B3"/>
<path d="M246.13,603.91 L247.29,604.73 L248.44,605.58 L249.56,606.45 L250.66,607.34 L251.74,608.26 L252.81,609.19 L253.85,610.15 L254.87,611.13 L255.87,612.13 L256.85,613.14 L257.8,614.18 L258.74,615.23 L259.65,616.31 L260.53,617.4 L261.39,618.51 L262.23,619.64 L263.04,620.78 L263.83,621.94 L264.59,623.11 L265.32,624.3 L266.03,625.51 L266.71,626.73 L267.37,627.96 L268,629.2" fill="none" stroke="#FFFFFF" stroke-opacity="0.9" stroke-width="0.75"/>
<path d="M250.64,597.98 L251.93,598.89 L253.2,599.84 L254.44,600.8 L255.67,601.79 L256.87,602.81 L258.05,603.85 L259.21,604.91 L260.35,606 L261.46,607.11 L262.54,608.24 L263.6,609.39 L264.64,610.56 L265.65,611.75 L266.63,612.97 L267.59,614.2 L268.52,615.45 L269.42,616.72 L270.3,618.01 L271.14,619.32 L271.96,620.64 L272.75,621.98 L273.51,623.33 L274.23,624.7 L274.93,626.08" fill="none" stroke="#FFFFFF" stroke-opacity="0.9" stroke-width="0.75"/>
<path d="M255.14,592.05 L256.56,593.05 L257.95,594.09 L259.33,595.15 L260.67,596.24 L262,597.36 L263.3,598.5 L264.57,599.67 L265.82,600.87 L267.04,602.09 L268.24,603.33 L269.4,604.6 L270.54,605.89 L271.66,607.2 L272.74,608.53 L273.79,609.89 L274.81,611.27 L275.8,612.66 L276.77,614.08 L277.7,615.52 L278.59,616.97 L279.46,618.44 L280.3,619.93 L281.1,621.44 L281.87,622.96" fill="none" stroke="#FFFFFF" stroke-opacity="0.9" stroke-width="0.75"/>
<path d="M223.62,633.57 L224.13,633.94 L224.64,634.31 L225.14,634.7 L225.63,635.1 L226.11,635.5 L226.58,635.92 L227.04,636.34 L227.5,636.78 L227.94,637.22 L228.38,637.67 L228.8,638.14 L229.22,638.6 L229.62,639.08 L230.01,639.57 L230.4,640.06 L230.77,640.56 L231.13,641.07 L231.48,641.58 L231.82,642.11 L232.14,642.63 L232.46,643.17 L232.76,643.71 L233.05,644.26 L233.33,644.81 L247.75,638.32 L247.33,637.48 L246.89,636.65 L246.43,635.82 L245.95,635.01 L245.45,634.21 L244.94,633.41 L244.4,632.63 L243.86,631.86 L243.29,631.1 L242.71,630.35 L242.11,629.61 L241.5,628.88 L240.87,628.17 L240.22,627.47 L239.56,626.78 L238.89,626.11 L238.2,625.45 L237.49,624.8 L236.77,624.17 L236.04,623.55 L235.3,622.95 L234.54,622.36 L233.77,621.79 L232.98,621.23 Z" fill="#FFFFFF" stroke="#333" stroke-width="0.75"/>
<text x="0" y="2.9" font-size="8.5" font-weight="bold" fill="#111" stroke="#111" stroke-width="0.4" text-anchor="middle" transform="translate(283.56 595.79) rotate(50.4)">GO:0032604</text>
<path d="M263.9,639.17 L264.28,640.35 L264.64,641.53 L264.97,642.71 L265.28,643.9 L265.56,645.1 L265.81,646.31 L266.04,647.52 L266.24,648.73 L266.42,649.95 L266.56,651.17 L266.68,652.39 L266.78,653.62 L266.85,654.84 L266.89,656.07 L266.9,657.3 L266.89,658.53 L266.85,659.76 L266.78,660.98 L266.68,662.21 L266.56,663.43 L266.42,664.65 L266.24,665.87 L266.04,667.08 L265.81,668.29 L295.92,673.79 L296.26,671.97 L296.56,670.15 L296.82,668.33 L297.05,666.5 L297.23,664.66 L297.37,662.82 L297.47,660.98 L297.53,659.14 L297.55,657.3 L297.53,655.46 L297.47,653.62 L297.37,651.78 L297.23,649.94 L297.05,648.1 L296.82,646.27 L296.56,644.45 L296.26,642.63 L295.92,640.81 L295.54,639.01 L295.12,637.21 L294.66,635.42 L294.16,633.64 L293.63,631.87 L293.05,630.11 Z" fill="#B3B3B3"/>
<path d="M271.19,636.91 L271.62,638.23 L272.02,639.55 L272.4,640.89 L272.74,642.23 L273.06,643.58 L273.34,644.93 L273.6,646.29 L273.82,647.66 L274.02,649.03 L274.18,650.4 L274.32,651.78 L274.43,653.16 L274.5,654.54 L274.55,655.92 L274.56,657.3 L274.55,658.68 L274.5,660.06 L274.43,661.44 L274.32,662.82 L274.18,664.2 L274.02,665.57 L273.82,666.94 L273.6,668.31 L273.34,669.67" fill="none" stroke="#FFFFFF" stroke-opacity="0.9" stroke-width="0.75"/>
<path d="M278.47,634.64 L278.95,636.11 L279.4,637.58 L279.82,639.06 L280.2,640.56 L280.55,642.05 L280.87,643.56 L281.15,645.07 L281.4,646.59 L281.62,648.11 L281.8,649.64 L281.96,651.16 L282.07,652.7 L282.16,654.23 L282.21,655.76 L282.22,657.3 L282.21,658.84 L282.16,660.37 L282.07,661.9 L281.96,663.44 L281.8,664.96 L281.62,666.49 L281.4,668.01 L281.15,669.53 L280.87,671.04" fill="none" stroke="#FFFFFF" stroke-opacity="0.9" stroke-width="0.75"/>
<path d="M285.76,632.38 L286.29,633.99 L286.78,635.61 L287.24,637.24 L287.66,638.88 L288.05,640.53 L288.39,642.19 L288.71,643.85 L288.98,645.52 L289.22,647.19 L289.43,648.87 L289.59,650.55 L289.72,652.24 L289.81,653.92 L289.87,655.61 L289.89,657.3 L289.87,658.99 L289.81,660.68 L289.72,662.36 L289.59,664.05 L289.43,665.73 L289.22,667.41 L288.98,669.08 L288.71,670.75 L288.39,672.41" fill="none" stroke="#FFFFFF" stroke-opacity="0.9" stroke-width="0.75"/>
<path d="M234.75,648.24 L234.94,648.82 L235.12,649.41 L235.29,650.01 L235.44,650.6 L235.58,651.2 L235.71,651.8 L235.82,652.41 L235.92,653.02 L236.01,653.62 L236.08,654.23 L236.14,654.85 L236.19,655.46 L236.22,656.07 L236.24,656.69 L236.25,657.3 L236.24,657.91 L236.22,658.53 L236.19,659.14 L236.14,659.75 L236.08,660.37 L236.01,660.98 L235.92,661.58 L235.82,662.19 L235.71,662.8 L251.36,665.65 L251.54,664.73 L251.69,663.81 L251.82,662.89 L251.93,661.96 L252.02,661.03 L252.1,660.1 L252.15,659.17 L252.18,658.23 L252.19,657.3 L252.18,656.37 L252.15,655.43 L252.1,654.5 L252.02,653.57 L251.93,652.64 L251.82,651.71 L251.69,650.79 L251.54,649.87 L251.36,648.95 L251.17,648.03 L250.96,647.12 L250.72,646.21 L250.47,645.31 L250.2,644.41 L249.91,643.52 Z" fill="#FFFFFF" stroke="#333" stroke-width="0.75"/>
<text x="0" y="2.9" font-size="8.5" font-weight="bold" fill="#111" stroke="#111" stroke-width="0.4" text-anchor="middle" transform="translate(306.28 651.24) rotate(86.4)">GO:0032645</text>
<path d="M263.9,675.43 L263.49,676.59 L263.06,677.75 L262.6,678.89 L262.11,680.03 L261.6,681.16 L261.07,682.28 L260.51,683.38 L259.92,684.48 L259.32,685.56 L258.69,686.63 L258.03,687.69 L257.36,688.73 L256.66,689.76 L255.94,690.78 L255.19,691.78 L254.43,692.77 L253.64,693.74 L252.83,694.69 L252,695.63 L251.15,696.55 L250.29,697.46 L249.4,698.34 L248.49,699.21 L247.56,700.06 L268.54,721.44 L269.93,720.17 L271.3,718.86 L272.63,717.53 L273.93,716.18 L275.21,714.79 L276.45,713.39 L277.66,711.95 L278.84,710.5 L279.99,709.02 L281.1,707.52 L282.19,705.99 L283.24,704.45 L284.25,702.88 L285.23,701.29 L286.18,699.69 L287.09,698.07 L287.96,696.42 L288.8,694.76 L289.6,693.09 L290.36,691.4 L291.09,689.69 L291.78,687.97 L292.43,686.24 L293.05,684.49 Z" fill="#B3B3B3"/>
<path d="M271.19,677.69 L270.73,679 L270.24,680.3 L269.72,681.59 L269.17,682.87 L268.6,684.14 L268,685.4 L267.37,686.64 L266.71,687.87 L266.03,689.09 L265.32,690.3 L264.59,691.49 L263.83,692.66 L263.04,693.82 L262.23,694.96 L261.39,696.09 L260.53,697.2 L259.65,698.29 L258.74,699.37 L257.8,700.42 L256.85,701.46 L255.87,702.47 L254.87,703.47 L253.85,704.45 L252.81,705.41" fill="none" stroke="#FFFFFF" stroke-opacity="0.9" stroke-width="0.75"/>
<path d="M278.47,679.96 L277.96,681.41 L277.42,682.86 L276.84,684.29 L276.24,685.71 L275.6,687.12 L274.93,688.52 L274.23,689.9 L273.51,691.27 L272.75,692.62 L271.96,693.96 L271.14,695.28 L270.3,696.59 L269.42,697.88 L268.52,699.15 L267.59,700.4 L266.63,701.63 L265.65,702.85 L264.64,704.04 L263.6,705.21 L262.54,706.36 L261.46,707.49 L260.35,708.6 L259.21,709.69 L258.05,710.75" fill="none" stroke="#FFFFFF" stroke-opacity="0.9" stroke-width="0.75"/>
<path d="M285.76,682.22 L285.2,683.83 L284.6,685.41 L283.97,686.99 L283.3,688.56 L282.6,690.11 L281.87,691.64 L281.1,693.16 L280.3,694.67 L279.46,696.16 L278.59,697.63 L277.7,699.08 L276.77,700.52 L275.8,701.94 L274.81,703.33 L273.79,704.71 L272.74,706.07 L271.66,707.4 L270.54,708.71 L269.4,710 L268.24,711.27 L267.04,712.51 L265.82,713.73 L264.57,714.93 L263.3,716.1" fill="none" stroke="#FFFFFF" stroke-opacity="0.9" stroke-width="0.75"/>
<path d="M234.75,666.36 L234.54,666.95 L234.33,667.52 L234.1,668.1 L233.85,668.67 L233.6,669.23 L233.33,669.79 L233.05,670.34 L232.76,670.89 L232.46,671.43 L232.14,671.96 L231.82,672.49 L231.48,673.02 L231.13,673.53 L230.77,674.04 L230.4,674.54 L230.01,675.03 L229.62,675.52 L229.22,676 L228.8,676.46 L228.38,676.93 L227.94,677.38 L227.5,677.82 L227.04,678.26 L226.58,678.68 L237.49,689.8 L238.2,689.15 L238.89,688.49 L239.56,687.82 L240.22,687.13 L240.87,686.43 L241.5,685.72 L242.11,684.99 L242.71,684.25 L243.29,683.5 L243.86,682.74 L244.4,681.97 L244.94,681.19 L245.45,680.39 L245.95,679.59 L246.43,678.78 L246.89,677.95 L247.33,677.12 L247.75,676.28 L248.16,675.43 L248.55,674.58 L248.92,673.71 L249.27,672.84 L249.6,671.96 L249.91,671.08 Z" fill="#FFFFFF" stroke="#333" stroke-width="0.75"/>
<text x="0" y="2.9" font-size="8.5" font-weight="bold" fill="#111" stroke="#111" stroke-width="0.4" text-anchor="middle" transform="translate(290.93 709.01) rotate(122.4)">GO:0010744</text>
<path d="M241.63,704.76 L240.58,705.47 L239.52,706.16 L238.45,706.83 L237.35,707.48 L236.25,708.1 L235.13,708.7 L234,709.28 L232.86,709.84 L231.7,710.38 L230.53,710.89 L229.35,711.38 L228.17,711.84 L226.97,712.28 L225.76,712.7 L224.54,713.09 L223.32,713.46 L222.08,713.8 L220.84,714.12 L219.6,714.41 L218.34,714.68 L217.09,714.92 L215.82,715.14 L214.55,715.33 L213.28,715.5 L217.12,744.6 L219.03,744.35 L220.93,744.06 L222.83,743.73 L224.72,743.37 L226.6,742.97 L228.47,742.53 L230.33,742.05 L232.18,741.53 L234.01,740.98 L235.84,740.4 L237.65,739.77 L239.45,739.11 L241.23,738.41 L243,737.68 L244.75,736.92 L246.48,736.11 L248.2,735.28 L249.9,734.41 L251.57,733.5 L253.23,732.56 L254.87,731.59 L256.48,730.59 L258.08,729.55 L259.65,728.49 Z" fill="#B3B3B3"/>
<path d="M246.13,710.69 L244.96,711.49 L243.76,712.27 L242.55,713.02 L241.32,713.75 L240.08,714.45 L238.82,715.13 L237.55,715.78 L236.26,716.41 L234.96,717.01 L233.65,717.59 L232.32,718.14 L230.99,718.66 L229.64,719.15 L228.28,719.62 L226.91,720.06 L225.53,720.48 L224.15,720.86 L222.75,721.22 L221.35,721.55 L219.94,721.85 L218.52,722.12 L217.1,722.37 L215.67,722.58 L214.24,722.77" fill="none" stroke="#FFFFFF" stroke-opacity="0.9" stroke-width="0.75"/>
<path d="M250.64,716.62 L249.33,717.51 L248,718.37 L246.66,719.21 L245.29,720.02 L243.91,720.8 L242.51,721.56 L241.1,722.28 L239.67,722.98 L238.23,723.65 L236.77,724.29 L235.29,724.9 L233.81,725.48 L232.31,726.03 L230.8,726.55 L229.28,727.04 L227.75,727.5 L226.21,727.92 L224.66,728.32 L223.1,728.69 L221.53,729.02 L219.96,729.33 L218.38,729.6 L216.79,729.84 L215.2,730.05" fill="none" stroke="#FFFFFF" stroke-opacity="0.9" stroke-width="0.75"/>
<path d="M255.14,722.55 L253.7,723.53 L252.24,724.48 L250.76,725.4 L249.26,726.29 L247.74,727.15 L246.21,727.98 L244.65,728.78 L243.08,729.55 L241.49,730.28 L239.88,730.98 L238.26,731.66 L236.63,732.29 L234.98,732.9 L233.32,733.47 L231.65,734.01 L229.96,734.51 L228.27,734.99 L226.56,735.42 L224.85,735.83 L223.12,736.19 L221.39,736.53 L219.66,736.83 L217.91,737.09 L216.16,737.32" fill="none" stroke="#FFFFFF" stroke-opacity="0.9" stroke-width="0.75"/>
<path d="M223.62,681.03 L223.09,681.38 L222.56,681.73 L222.02,682.06 L221.48,682.39 L220.92,682.7 L220.37,683 L219.8,683.29 L219.23,683.57 L218.65,683.84 L218.07,684.09 L217.48,684.34 L216.88,684.57 L216.28,684.79 L215.68,685 L215.07,685.19 L214.46,685.38 L213.84,685.55 L213.22,685.71 L212.6,685.86 L211.97,685.99 L211.34,686.11 L210.71,686.22 L210.08,686.32 L209.44,686.4 L211.44,701.53 L212.41,701.4 L213.37,701.26 L214.33,701.09 L215.29,700.91 L216.24,700.7 L217.19,700.48 L218.13,700.24 L219.07,699.98 L220,699.7 L220.92,699.4 L221.84,699.09 L222.75,698.75 L223.65,698.4 L224.55,698.03 L225.44,697.64 L226.31,697.23 L227.18,696.81 L228.04,696.37 L228.89,695.91 L229.73,695.43 L230.56,694.94 L231.38,694.43 L232.19,693.91 L232.98,693.37 Z" fill="#FF0000" stroke="#333" stroke-width="0.75"/>
<text x="0" y="2.9" font-size="8.5" font-weight="bold" fill="#111" stroke="#111" stroke-width="0.4" text-anchor="middle" transform="translate(243.37 747.02) rotate(158.4)">GO:0030277</text>
<path d="M205.6,715.96 L204.32,715.95 L203.03,715.91 L201.75,715.84 L200.47,715.75 L199.19,715.64 L197.92,715.5 L196.65,715.33 L195.38,715.14 L194.11,714.92 L192.86,714.68 L191.6,714.41 L190.36,714.12 L189.12,713.8 L187.88,713.46 L186.66,713.09 L185.44,712.7 L184.23,712.28 L183.03,711.84 L181.85,711.38 L180.67,710.89 L179.5,710.38 L178.34,709.84 L177.2,709.28 L176.07,708.7 L161.3,734.41 L163,735.28 L164.72,736.11 L166.45,736.92 L168.2,737.68 L169.97,738.41 L171.75,739.11 L173.55,739.77 L175.36,740.4 L177.19,740.98 L179.02,741.53 L180.87,742.05 L182.73,742.53 L184.6,742.97 L186.48,743.37 L188.37,743.73 L190.27,744.06 L192.17,744.35 L194.08,744.6 L195.99,744.81 L197.91,744.98 L199.83,745.12 L201.75,745.21 L203.67,745.27 L205.6,745.29 Z" fill="#B3B3B3"/>
<path d="M205.6,723.29 L204.16,723.28 L202.71,723.23 L201.27,723.16 L199.83,723.06 L198.39,722.93 L196.96,722.77 L195.53,722.58 L194.1,722.37 L192.68,722.12 L191.26,721.85 L189.85,721.55 L188.45,721.22 L187.05,720.86 L185.67,720.48 L184.29,720.06 L182.92,719.62 L181.56,719.15 L180.21,718.66 L178.88,718.14 L177.55,717.59 L176.24,717.01 L174.94,716.41 L173.65,715.78 L172.38,715.13" fill="none" stroke="#FFFFFF" stroke-opacity="0.9" stroke-width="0.75"/>
<path d="M205.6,730.62 L204,730.61 L202.39,730.56 L200.79,730.48 L199.19,730.37 L197.59,730.22 L196,730.05 L194.41,729.84 L192.82,729.6 L191.24,729.33 L189.67,729.02 L188.1,728.69 L186.54,728.32 L184.99,727.92 L183.45,727.5 L181.92,727.04 L180.4,726.55 L178.89,726.03 L177.39,725.48 L175.91,724.9 L174.43,724.29 L172.97,723.65 L171.53,722.98 L170.1,722.28 L168.69,721.56" fill="none" stroke="#FFFFFF" stroke-opacity="0.9" stroke-width="0.75"/>
<path d="M205.6,737.96 L203.83,737.94 L202.07,737.89 L200.31,737.8 L198.55,737.67 L196.79,737.52 L195.04,737.32 L193.29,737.09 L191.54,736.83 L189.81,736.53 L188.08,736.19 L186.35,735.83 L184.64,735.42 L182.93,734.99 L181.24,734.51 L179.55,734.01 L177.88,733.47 L176.22,732.9 L174.57,732.29 L172.94,731.66 L171.32,730.98 L169.71,730.28 L168.12,729.55 L166.55,728.78 L164.99,727.98" fill="none" stroke="#FFFFFF" stroke-opacity="0.9" stroke-width="0.75"/>
<path d="M205.6,686.63 L204.96,686.62 L204.32,686.6 L203.68,686.57 L203.04,686.53 L202.4,686.47 L201.76,686.4 L201.12,686.32 L200.49,686.22 L199.86,686.11 L199.23,685.99 L198.6,685.86 L197.98,685.71 L197.36,685.55 L196.74,685.38 L196.13,685.19 L195.52,685 L194.92,684.79 L194.32,684.57 L193.72,684.34 L193.13,684.09 L192.55,683.84 L191.97,683.57 L191.4,683.29 L190.83,683 L183.16,696.37 L184.02,696.81 L184.89,697.23 L185.76,697.64 L186.65,698.03 L187.55,698.4 L188.45,698.75 L189.36,699.09 L190.28,699.4 L191.2,699.7 L192.13,699.98 L193.07,700.24 L194.01,700.48 L194.96,700.7 L195.91,700.91 L196.87,701.09 L197.83,701.26 L198.79,701.4 L199.76,701.53 L200.73,701.64 L201.7,701.73 L202.67,701.79 L203.65,701.84 L204.62,701.87 L205.6,701.88 Z" fill="#FFAB95" stroke="#333" stroke-width="0.75"/>
<text x="0" y="2.9" font-size="8.5" font-weight="bold" fill="#111" stroke="#111" stroke-width="0.4" text-anchor="middle" transform="translate(181.76 750.77) rotate(194.4)">GO:0070555</text>
<path d="M169.57,704.76 L168.54,704.02 L167.52,703.27 L166.53,702.5 L165.55,701.71 L164.58,700.89 L163.64,700.06 L162.71,699.21 L161.8,698.34 L160.91,697.46 L160.05,696.55 L159.2,695.63 L158.37,694.69 L157.56,693.74 L156.77,692.77 L156.01,691.78 L155.26,690.78 L154.54,689.76 L153.84,688.73 L153.17,687.69 L152.51,686.63 L151.88,685.56 L151.28,684.48 L150.69,683.38 L150.13,682.28 L122.4,694.76 L123.24,696.42 L124.11,698.07 L125.02,699.69 L125.97,701.29 L126.95,702.88 L127.96,704.45 L129.01,705.99 L130.1,707.52 L131.21,709.02 L132.36,710.5 L133.54,711.95 L134.75,713.39 L135.99,714.79 L137.27,716.18 L138.57,717.53 L139.9,718.86 L141.27,720.17 L142.66,721.44 L144.07,722.69 L145.52,723.91 L146.99,725.1 L148.49,726.26 L150.01,727.39 L151.55,728.49 Z" fill="#B3B3B3"/>
<path d="M165.07,710.69 L163.91,709.87 L162.76,709.02 L161.64,708.15 L160.54,707.26 L159.46,706.34 L158.39,705.41 L157.35,704.45 L156.33,703.47 L155.33,702.47 L154.35,701.46 L153.4,700.42 L152.46,699.37 L151.55,698.29 L150.67,697.2 L149.81,696.09 L148.97,694.96 L148.16,693.82 L147.37,692.66 L146.61,691.49 L145.88,690.3 L145.17,689.09 L144.49,687.87 L143.83,686.64 L143.2,685.4" fill="none" stroke="#FFFFFF" stroke-opacity="0.9" stroke-width="0.75"/>
<path d="M160.56,716.62 L159.27,715.71 L158,714.76 L156.76,713.8 L155.53,712.81 L154.33,711.79 L153.15,710.75 L151.99,709.69 L150.85,708.6 L149.74,707.49 L148.66,706.36 L147.6,705.21 L146.56,704.04 L145.55,702.85 L144.57,701.63 L143.61,700.4 L142.68,699.15 L141.78,697.88 L140.9,696.59 L140.06,695.28 L139.24,693.96 L138.45,692.62 L137.69,691.27 L136.97,689.9 L136.27,688.52" fill="none" stroke="#FFFFFF" stroke-opacity="0.9" stroke-width="0.75"/>
<path d="M156.06,722.55 L154.64,721.55 L153.25,720.51 L151.87,719.45 L150.53,718.36 L149.2,717.24 L147.9,716.1 L146.63,714.93 L145.38,713.73 L144.16,712.51 L142.96,711.27 L141.8,710 L140.66,708.71 L139.54,707.4 L138.46,706.07 L137.41,704.71 L136.39,703.33 L135.4,701.94 L134.43,700.52 L133.5,699.08 L132.61,697.63 L131.74,696.16 L130.9,694.67 L130.1,693.16 L129.33,691.64" fill="none" stroke="#FFFFFF" stroke-opacity="0.9" stroke-width="0.75"/>
<path d="M187.58,681.03 L187.07,680.66 L186.56,680.29 L186.06,679.9 L185.57,679.5 L185.09,679.1 L184.62,678.68 L184.16,678.26 L183.7,677.82 L183.26,677.38 L182.82,676.93 L182.4,676.46 L181.98,676 L181.58,675.52 L181.19,675.03 L180.8,674.54 L180.43,674.04 L180.07,673.53 L179.72,673.02 L179.38,672.49 L179.06,671.96 L178.74,671.43 L178.44,670.89 L178.15,670.34 L177.87,669.79 L163.45,676.28 L163.87,677.12 L164.31,677.95 L164.77,678.78 L165.25,679.59 L165.75,680.39 L166.26,681.19 L166.8,681.97 L167.34,682.74 L167.91,683.5 L168.49,684.25 L169.09,684.99 L169.7,685.72 L170.33,686.43 L170.98,687.13 L171.64,687.82 L172.31,688.49 L173,689.15 L173.71,689.8 L174.43,690.43 L175.16,691.05 L175.9,691.65 L176.66,692.24 L177.43,692.81 L178.22,693.37 Z" fill="#FFAB95" stroke="#333" stroke-width="0.75"/>
<text x="0" y="2.9" font-size="8.5" font-weight="bold" fill="#111" stroke="#111" stroke-width="0.4" text-anchor="middle" transform="translate(129.64 718.81) rotate(230.4)">GO:0070665</text>
<path d="M147.3,675.43 L146.92,674.25 L146.56,673.07 L146.23,671.89 L145.92,670.7 L145.64,669.5 L145.39,668.29 L145.16,667.08 L144.96,665.87 L144.78,664.65 L144.64,663.43 L144.52,662.21 L144.42,660.98 L144.35,659.76 L144.31,658.53 L144.3,657.3 L144.31,656.07 L144.35,654.84 L144.42,653.62 L144.52,652.39 L144.64,651.17 L144.78,649.95 L144.96,648.73 L145.16,647.52 L145.39,646.31 L115.28,640.81 L114.94,642.63 L114.64,644.45 L114.38,646.27 L114.15,648.1 L113.97,649.94 L113.83,651.78 L113.73,653.62 L113.67,655.46 L113.65,657.3 L113.67,659.14 L113.73,660.98 L113.83,662.82 L113.97,664.66 L114.15,666.5 L114.38,668.33 L114.64,670.15 L114.94,671.97 L115.28,673.79 L115.66,675.59 L116.08,677.39 L116.54,679.18 L117.04,680.96 L117.57,682.73 L118.15,684.49 Z" fill="#B3B3B3"/>
<path d="M140.01,677.69 L139.58,676.37 L139.18,675.05 L138.8,673.71 L138.46,672.37 L138.14,671.02 L137.86,669.67 L137.6,668.31 L137.38,666.94 L137.18,665.57 L137.02,664.2 L136.88,662.82 L136.77,661.44 L136.7,660.06 L136.65,658.68 L136.64,657.3 L136.65,655.92 L136.7,654.54 L136.77,653.16 L136.88,651.78 L137.02,650.4 L137.18,649.03 L137.38,647.66 L137.6,646.29 L137.86,644.93" fill="none" stroke="#FFFFFF" stroke-opacity="0.9" stroke-width="0.75"/>
<path d="M132.73,679.96 L132.25,678.49 L131.8,677.02 L131.38,675.54 L131,674.04 L130.65,672.55 L130.33,671.04 L130.05,669.53 L129.8,668.01 L129.58,666.49 L129.4,664.96 L129.24,663.44 L129.13,661.9 L129.04,660.37 L128.99,658.84 L128.98,657.3 L128.99,655.76 L129.04,654.23 L129.13,652.7 L129.24,651.16 L129.4,649.64 L129.58,648.11 L129.8,646.59 L130.05,645.07 L130.33,643.56" fill="none" stroke="#FFFFFF" stroke-opacity="0.9" stroke-width="0.75"/>
<path d="M125.44,682.22 L124.91,680.61 L124.42,678.99 L123.96,677.36 L123.54,675.72 L123.15,674.07 L122.81,672.41 L122.49,670.75 L122.22,669.08 L121.98,667.41 L121.77,665.73 L121.61,664.05 L121.48,662.36 L121.39,660.68 L121.33,658.99 L121.31,657.3 L121.33,655.61 L121.39,653.92 L121.48,652.24 L121.61,650.55 L121.77,648.87 L121.98,647.19 L122.22,645.52 L122.49,643.85 L122.81,642.19" fill="none" stroke="#FFFFFF" stroke-opacity="0.9" stroke-width="0.75"/>
<path d="M176.45,666.36 L176.26,665.78 L176.08,665.19 L175.91,664.59 L175.76,664 L175.62,663.4 L175.49,662.8 L175.38,662.19 L175.28,661.58 L175.19,660.98 L175.12,660.37 L175.06,659.75 L175.01,659.14 L174.98,658.53 L174.96,657.91 L174.95,657.3 L174.96,656.69 L174.98,656.07 L175.01,655.46 L175.06,654.85 L175.12,654.23 L175.19,653.62 L175.28,653.02 L175.38,652.41 L175.49,651.8 L159.84,648.95 L159.66,649.87 L159.51,650.79 L159.38,651.71 L159.27,652.64 L159.18,653.57 L159.1,654.5 L159.05,655.43 L159.02,656.37 L159.01,657.3 L159.02,658.23 L159.05,659.17 L159.1,660.1 L159.18,661.03 L159.27,661.96 L159.38,662.89 L159.51,663.81 L159.66,664.73 L159.84,665.65 L160.03,666.57 L160.24,667.48 L160.48,668.39 L160.73,669.29 L161,670.19 L161.29,671.08 Z" fill="#FF0000" stroke="#333" stroke-width="0.75"/>
<text x="0" y="2.9" font-size="8.5" font-weight="bold" fill="#111" stroke="#111" stroke-width="0.4" text-anchor="middle" transform="translate(106.92 663.36) rotate(266.4)">GO:0010669</text>
<path d="M147.3,639.17 L147.71,638.01 L148.14,636.85 L148.6,635.71 L149.09,634.57 L149.6,633.44 L150.13,632.32 L150.69,631.22 L151.28,630.12 L151.88,629.04 L152.51,627.97 L153.17,626.91 L153.84,625.87 L154.54,624.84 L155.26,623.82 L156.01,622.82 L156.77,621.83 L157.56,620.86 L158.37,619.91 L159.2,618.97 L160.05,618.05 L160.91,617.14 L161.8,616.26 L162.71,615.39 L163.64,614.54 L142.66,593.16 L141.27,594.43 L139.9,595.74 L138.57,597.07 L137.27,598.42 L135.99,599.81 L134.75,601.21 L133.54,602.65 L132.36,604.1 L131.21,605.58 L130.1,607.08 L129.01,608.61 L127.96,610.15 L126.95,611.72 L125.97,613.3 L125.02,614.91 L124.11,616.53 L123.24,618.18 L122.4,619.84 L121.6,621.51 L120.84,623.2 L120.11,624.91 L119.42,626.63 L118.77,628.36 L118.15,630.11 Z" fill="#B3B3B3"/>
<path d="M140.01,636.91 L140.47,635.6 L140.96,634.3 L141.48,633.01 L142.03,631.73 L142.6,630.46 L143.2,629.2 L143.83,627.96 L144.49,626.73 L145.17,625.51 L145.88,624.3 L146.61,623.11 L147.37,621.94 L148.16,620.78 L148.97,619.64 L149.81,618.51 L150.67,617.4 L151.55,616.31 L152.46,615.23 L153.4,614.18 L154.35,613.14 L155.33,612.13 L156.33,611.13 L157.35,610.15 L158.39,609.19" fill="none" stroke="#FFFFFF" stroke-opacity="0.9" stroke-width="0.75"/>
<path d="M132.73,634.64 L133.24,633.19 L133.78,631.74 L134.36,630.31 L134.96,628.89 L135.6,627.48 L136.27,626.08 L136.97,624.7 L137.69,623.33 L138.45,621.98 L139.24,620.64 L140.06,619.32 L140.9,618.01 L141.78,616.72 L142.68,615.45 L143.61,614.2 L144.57,612.97 L145.55,611.75 L146.56,610.56 L147.6,609.39 L148.66,608.24 L149.74,607.11 L150.85,606 L151.99,604.91 L153.15,603.85" fill="none" stroke="#FFFFFF" stroke-opacity="0.9" stroke-width="0.75"/>
<path d="M125.44,632.38 L126,630.77 L126.6,629.19 L127.23,627.61 L127.9,626.04 L128.6,624.49 L129.33,622.96 L130.1,621.44 L130.9,619.93 L131.74,618.44 L132.61,616.97 L133.5,615.52 L134.43,614.08 L135.4,612.66 L136.39,611.27 L137.41,609.89 L138.46,608.53 L139.54,607.2 L140.66,605.89 L141.8,604.6 L142.96,603.33 L144.16,602.09 L145.38,600.87 L146.63,599.67 L147.9,598.5" fill="none" stroke="#FFFFFF" stroke-opacity="0.9" stroke-width="0.75"/>
<path d="M176.45,648.24 L176.66,647.65 L176.87,647.08 L177.1,646.5 L177.35,645.93 L177.6,645.37 L177.87,644.81 L178.15,644.26 L178.44,643.71 L178.74,643.17 L179.06,642.63 L179.38,642.11 L179.72,641.58 L180.07,641.07 L180.43,640.56 L180.8,640.06 L181.19,639.57 L181.58,639.08 L181.98,638.6 L182.4,638.14 L182.82,637.67 L183.26,637.22 L183.7,636.78 L184.16,636.34 L184.62,635.92 L173.71,624.8 L173,625.45 L172.31,626.11 L171.64,626.78 L170.98,627.47 L170.33,628.17 L169.7,628.88 L169.09,629.61 L168.49,630.35 L167.91,631.1 L167.34,631.86 L166.8,632.63 L166.26,633.41 L165.75,634.21 L165.25,635.01 L164.77,635.82 L164.31,636.65 L163.87,637.48 L163.45,638.32 L163.04,639.17 L162.65,640.02 L162.28,640.89 L161.93,641.76 L161.6,642.64 L161.29,643.52 Z" fill="#FFFFFF" stroke="#333" stroke-width="0.75"/>
<text x="0" y="2.9" font-size="8.5" font-weight="bold" fill="#111" stroke="#111" stroke-width="0.4" text-anchor="middle" transform="translate(122.27 605.59) rotate(302.4)">GO:0010743</text>
<path d="M169.57,609.84 L170.62,609.13 L171.68,608.44 L172.75,607.77 L173.85,607.12 L174.95,606.5 L176.07,605.9 L177.2,605.32 L178.34,604.76 L179.5,604.22 L180.67,603.71 L181.85,603.22 L183.03,602.76 L184.23,602.32 L185.44,601.9 L186.66,601.51 L187.88,601.14 L189.12,600.8 L190.36,600.48 L191.6,600.19 L192.86,599.92 L194.11,599.68 L195.38,599.46 L196.65,599.27 L197.92,599.1 L194.08,570 L192.17,570.25 L190.27,570.54 L188.37,570.87 L186.48,571.23 L184.6,571.63 L182.73,572.07 L180.87,572.55 L179.02,573.07 L177.19,573.62 L175.36,574.2 L173.55,574.83 L171.75,575.49 L169.97,576.19 L168.2,576.92 L166.45,577.68 L164.72,578.49 L163,579.32 L161.3,580.19 L159.63,581.1 L157.97,582.04 L156.33,583.01 L154.72,584.01 L153.12,585.05 L151.55,586.11 Z" fill="#B3B3B3"/>
<path d="M165.07,603.91 L166.24,603.11 L167.44,602.33 L168.65,601.58 L169.88,600.85 L171.12,600.15 L172.38,599.47 L173.65,598.82 L174.94,598.19 L176.24,597.59 L177.55,597.01 L178.88,596.46 L180.21,595.94 L181.56,595.45 L182.92,594.98 L184.29,594.54 L185.67,594.12 L187.05,593.74 L188.45,593.38 L189.85,593.05 L191.26,592.75 L192.68,592.48 L194.1,592.23 L195.53,592.02 L196.96,591.83" fill="none" stroke="#FFFFFF" stroke-opacity="0.9" stroke-width="0.75"/>
<path d="M160.56,597.98 L161.87,597.09 L163.2,596.23 L164.54,595.39 L165.91,594.58 L167.29,593.8 L168.69,593.04 L170.1,592.32 L171.53,591.62 L172.97,590.95 L174.43,590.31 L175.91,589.7 L177.39,589.12 L178.89,588.57 L180.4,588.05 L181.92,587.56 L183.45,587.1 L184.99,586.68 L186.54,586.28 L188.1,585.91 L189.67,585.58 L191.24,585.27 L192.82,585 L194.41,584.76 L196,584.55" fill="none" stroke="#FFFFFF" stroke-opacity="0.9" stroke-width="0.75"/>
<path d="M156.06,592.05 L157.5,591.07 L158.96,590.12 L160.44,589.2 L161.94,588.31 L163.46,587.45 L164.99,586.62 L166.55,585.82 L168.12,585.05 L169.71,584.32 L171.32,583.62 L172.94,582.94 L174.57,582.31 L176.22,581.7 L177.88,581.13 L179.55,580.59 L181.24,580.09 L182.93,579.61 L184.64,579.18 L186.35,578.77 L188.08,578.41 L189.81,578.07 L191.54,577.77 L193.29,577.51 L195.04,577.28" fill="none" stroke="#FFFFFF" stroke-opacity="0.9" stroke-width="0.75"/>
<path d="M187.58,633.57 L188.11,633.22 L188.64,632.87 L189.18,632.54 L189.72,632.21 L190.28,631.9 L190.83,631.6 L191.4,631.31 L191.97,631.03 L192.55,630.76 L193.13,630.51 L193.72,630.26 L194.32,630.03 L194.92,629.81 L195.52,629.6 L196.13,629.41 L196.74,629.22 L197.36,629.05 L197.98,628.89 L198.6,628.74 L199.23,628.61 L199.86,628.49 L200.49,628.38 L201.12,628.28 L201.76,628.2 L199.76,613.07 L198.79,613.2 L197.83,613.34 L196.87,613.51 L195.91,613.69 L194.96,613.9 L194.01,614.12 L193.07,614.36 L192.13,614.62 L191.2,614.9 L190.28,615.2 L189.36,615.51 L188.45,615.85 L187.55,616.2 L186.65,616.57 L185.76,616.96 L184.89,617.37 L184.02,617.79 L183.16,618.23 L182.31,618.69 L181.47,619.17 L180.64,619.66 L179.82,620.17 L179.01,620.69 L178.22,621.23 Z" fill="#FFFFFF" stroke="#333" stroke-width="0.75"/>
<text x="0" y="2.9" font-size="8.5" font-weight="bold" fill="#111" stroke="#111" stroke-width="0.4" text-anchor="middle" transform="translate(169.83 567.58) rotate(338.4)">GO:0010742</text>
<circle cx="228.1" cy="575.3" r="2.1" fill="#F01C1C" stroke="#555" stroke-width="0.35"/>
<circle cx="230.7" cy="598.6" r="2.1" fill="#5B8BE6" stroke="#555" stroke-width="0.35"/>
<circle cx="270.8" cy="599.5" r="2.1" fill="#F01C1C" stroke="#555" stroke-width="0.35"/>
<circle cx="258.3" cy="618.8" r="2.1" fill="#5B8BE6" stroke="#555" stroke-width="0.35"/>
<circle cx="291.7" cy="636.6" r="2.1" fill="#F01C1C" stroke="#555" stroke-width="0.35"/>
<circle cx="271.0" cy="644.1" r="2.1" fill="#5B8BE6" stroke="#555" stroke-width="0.35"/>
<circle cx="254.1" cy="702.9" r="2.1" fill="#5B8BE6" stroke="#555" stroke-width="0.35"/>
<circle cx="275.6" cy="709.0" r="2.1" fill="#F01C1C" stroke="#555" stroke-width="0.35"/>
<circle cx="217.9" cy="728.8" r="2.1" fill="#F01C1C" stroke="#555" stroke-width="0.35"/>
<circle cx="225.6" cy="738.3" r="2.1" fill="#F01C1C" stroke="#555" stroke-width="0.35"/>
<circle cx="183.3" cy="720.0" r="2.1" fill="#5B8BE6" stroke="#555" stroke-width="0.35"/>
<circle cx="181.9" cy="739.1" r="2.1" fill="#F01C1C" stroke="#555" stroke-width="0.35"/>
<circle cx="195.5" cy="739.5" r="2.1" fill="#F01C1C" stroke="#555" stroke-width="0.35"/>
<circle cx="148.4" cy="687.5" r="2.1" fill="#5B8BE6" stroke="#555" stroke-width="0.35"/>
<circle cx="147.3" cy="711.1" r="2.1" fill="#F01C1C" stroke="#555" stroke-width="0.35"/>
<circle cx="142.4" cy="714.8" r="2.1" fill="#F01C1C" stroke="#555" stroke-width="0.35"/>
<circle cx="119.8" cy="648.1" r="2.1" fill="#F01C1C" stroke="#555" stroke-width="0.35"/>
<circle cx="131.1" cy="663.8" r="2.1" fill="#F01C1C" stroke="#555" stroke-width="0.35"/>
<circle cx="124.1" cy="625.8" r="2.1" fill="#F01C1C" stroke="#555" stroke-width="0.35"/>
<circle cx="148.5" cy="622.9" r="2.1" fill="#5B8BE6" stroke="#555" stroke-width="0.35"/>
<circle cx="172.4" cy="579.5" r="2.1" fill="#F01C1C" stroke="#555" stroke-width="0.35"/>
<circle cx="180.3" cy="597.3" r="2.1" fill="#5B8BE6" stroke="#555" stroke-width="0.35"/>
<text transform="translate(170.4 809.3) scale(0.8696 1)" font-size="8.28" text-anchor="middle" class="sm">logFC</text>
<rect x="120.6" y="813.4" width="9.6" height="9.6" fill="#F2F2F2"/>
<circle cx="125.4" cy="818.2" r="1.6" fill="#5B8BE6"/>
<text transform="translate(134 820.3) scale(0.8696 1)" font-size="6.79" text-anchor="start" class="sm">downregulated</text>
<rect x="177.2" y="813.4" width="9.6" height="9.6" fill="#F2F2F2"/>
<circle cx="182" cy="818.2" r="1.6" fill="#F01C1C"/>
<text transform="translate(190.5 820.3) scale(0.8696 1)" font-size="6.79" text-anchor="start" class="sm">upregulated</text>
<text transform="translate(263.6 809.3) scale(0.8696 1)" font-size="8.28" text-anchor="middle" class="sm">z-score</text>
<defs><linearGradient id="zs" x1="0" y1="0" x2="1" y2="0"><stop offset="0" stop-color="#FFFFFF"/><stop offset="0.5" stop-color="#FFB4A0"/><stop offset="1" stop-color="#FF0000"/></linearGradient></defs>
<rect x="238.5" y="813.2" width="52.9" height="10.1" fill="url(#zs)"/>
<text transform="translate(237.1 831.2) scale(0.8696 1)" font-size="6.9" text-anchor="middle" class="sm">decreasing</text>
<text transform="translate(291.1 831.2) scale(0.8696 1)" font-size="6.9" text-anchor="middle" class="sm">increasing</text>
<rect x="338.1" y="625.9" width="50.3" height="11.9" fill="#CDCDCD"/>
<rect x="389.3" y="625.9" width="275.9" height="11.9" fill="#CDCDCD"/>
<text transform="translate(363.25 635.05) scale(0.8696 1)" font-size="8.85" text-anchor="middle" class="tb">ID</text>
<text transform="translate(527.25 635.05) scale(0.8696 1)" font-size="8.85" text-anchor="middle" class="tb">Description</text>
<rect x="338.1" y="637.8" width="327.1" height="12.85" fill="#F4F4F4"/>
<text transform="translate(362.6 648.17) scale(0.8696 1)" font-size="8.57" text-anchor="middle" class="tid">GO:0032725</text>
<text transform="translate(527.25 648.1) scale(0.8696 1)" font-size="8.51" text-anchor="middle" class="tds">positive regulation of granulocyte macrophage colony-stimulating factor production</text>
<rect x="338.1" y="650.65" width="327.1" height="12.85" fill="#E5E5E5"/>
<text transform="translate(362.6 661.02) scale(0.8696 1)" font-size="8.57" text-anchor="middle" class="tid">GO:0032604</text>
<text transform="translate(527.25 660.95) scale(0.8696 1)" font-size="8.51" text-anchor="middle" class="tds">granulocyte macrophage colony-stimulating factor production</text>
<rect x="338.1" y="663.5" width="327.1" height="12.85" fill="#F4F4F4"/>
<text transform="translate(362.6 673.87) scale(0.8696 1)" font-size="8.57" text-anchor="middle" class="tid">GO:0032645</text>
<text transform="translate(527.25 673.8) scale(0.8696 1)" font-size="8.51" text-anchor="middle" class="tds">regulation of granulocyte macrophage colony-stimulating factor production</text>
<rect x="338.1" y="676.35" width="327.1" height="12.85" fill="#E5E5E5"/>
<text transform="translate(362.6 686.72) scale(0.8696 1)" font-size="8.57" text-anchor="middle" class="tid">GO:0010744</text>
<text transform="translate(527.25 686.65) scale(0.8696 1)" font-size="8.51" text-anchor="middle" class="tds">positive regulation of macrophage derived foam cell differentiation</text>
<rect x="338.1" y="689.2" width="327.1" height="12.85" fill="#F4F4F4"/>
<text transform="translate(362.6 699.57) scale(0.8696 1)" font-size="8.57" text-anchor="middle" class="tid">GO:0030277</text>
<text transform="translate(527.25 699.5) scale(0.8696 1)" font-size="8.51" text-anchor="middle" class="tds">maintenance of gastrointestinal epithelium</text>
<rect x="338.1" y="702.05" width="327.1" height="12.85" fill="#E5E5E5"/>
<text transform="translate(362.6 712.42) scale(0.8696 1)" font-size="8.57" text-anchor="middle" class="tid">GO:0070555</text>
<text transform="translate(527.25 712.35) scale(0.8696 1)" font-size="8.51" text-anchor="middle" class="tds">response to interleukin-1</text>
<rect x="338.1" y="714.9" width="327.1" height="12.85" fill="#F4F4F4"/>
<text transform="translate(362.6 725.27) scale(0.8696 1)" font-size="8.57" text-anchor="middle" class="tid">GO:0070665</text>
<text transform="translate(527.25 725.2) scale(0.8696 1)" font-size="8.51" text-anchor="middle" class="tds">positive regulation of leukocyte proliferation</text>
<rect x="338.1" y="727.75" width="327.1" height="12.85" fill="#E5E5E5"/>
<text transform="translate(362.6 738.12) scale(0.8696 1)" font-size="8.57" text-anchor="middle" class="tid">GO:0010669</text>
<text transform="translate(527.25 738.05) scale(0.8696 1)" font-size="8.51" text-anchor="middle" class="tds">epithelial structure maintenance</text>
<rect x="338.1" y="740.6" width="327.1" height="12.85" fill="#F4F4F4"/>
<text transform="translate(362.6 750.97) scale(0.8696 1)" font-size="8.57" text-anchor="middle" class="tid">GO:0010743</text>
<text transform="translate(527.25 750.9) scale(0.8696 1)" font-size="8.51" text-anchor="middle" class="tds">regulation of macrophage derived foam cell differentiation</text>
<rect x="338.1" y="753.45" width="327.1" height="12.85" fill="#E5E5E5"/>
<text transform="translate(362.6 763.82) scale(0.8696 1)" font-size="8.57" text-anchor="middle" class="tid">GO:0010742</text>
<text transform="translate(527.25 763.75) scale(0.8696 1)" font-size="8.51" text-anchor="middle" class="tds">macrophage derived foam cell differentiation</text>
<line x1="388.85" y1="625.9" x2="388.85" y2="766.3" stroke="#FFF" stroke-width="0.9"/>
</svg>
</body></html>
